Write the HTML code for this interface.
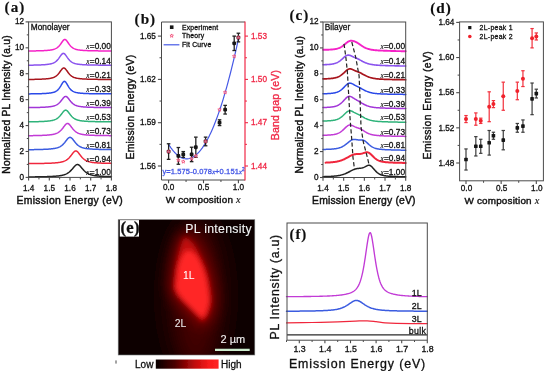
<!DOCTYPE html>
<html><head><meta charset="utf-8"><title>PL figure</title>
<style>
html,body{margin:0;padding:0;background:#fff;}
body{width:544px;height:371px;overflow:hidden;font-family:"Liberation Sans",Arial,sans-serif;}
svg{display:block;}
</style></head><body>
<svg width="544" height="371" viewBox="0 0 544 371">
<rect width="544" height="371" fill="#ffffff"/>
<filter id="soft" x="0" y="0" width="544" height="371" filterUnits="userSpaceOnUse"><feGaussianBlur stdDeviation="0.38"/></filter>
<g filter="url(#soft)">
<rect width="544" height="371" fill="#ffffff"/>
<text x="4.6" y="12.4" font-size="15.2" text-anchor="start" fill="#111" stroke="#111" stroke-width="0.15" font-family='"Liberation Serif", "Times New Roman", serif' font-weight="bold" font-style="normal" letter-spacing="1">(a)</text>
<path d="M28.6 176.94 L29.12 176.94 L29.63 176.93 L30.15 176.93 L30.67 176.92 L31.19 176.92 L31.7 176.91 L32.22 176.91 L32.74 176.9 L33.26 176.89 L33.77 176.89 L34.29 176.88 L34.81 176.88 L35.33 176.87 L35.84 176.86 L36.36 176.85 L36.88 176.85 L37.4 176.84 L37.91 176.83 L38.43 176.82 L38.95 176.81 L39.47 176.8 L39.98 176.79 L40.5 176.79 L41.02 176.78 L41.54 176.76 L42.05 176.75 L42.57 176.74 L43.09 176.73 L43.61 176.72 L44.12 176.71 L44.64 176.69 L45.16 176.68 L45.68 176.66 L46.19 176.65 L46.71 176.63 L47.23 176.62 L47.75 176.6 L48.27 176.58 L48.78 176.56 L49.3 176.54 L49.82 176.52 L50.34 176.5 L50.85 176.48 L51.37 176.45 L51.89 176.42 L52.41 176.4 L52.92 176.37 L53.44 176.34 L53.96 176.31 L54.48 176.27 L54.99 176.23 L55.51 176.19 L56.03 176.15 L56.55 176.11 L57.06 176.06 L57.58 176.01 L58.1 175.95 L58.62 175.89 L59.13 175.83 L59.65 175.76 L60.17 175.68 L60.69 175.6 L61.2 175.51 L61.72 175.41 L62.24 175.3 L62.76 175.18 L63.27 175.04 L63.79 174.89 L64.31 174.73 L64.83 174.55 L65.34 174.35 L65.86 174.13 L66.38 173.89 L66.9 173.62 L67.41 173.32 L67.93 173 L68.45 172.65 L68.97 172.26 L69.48 171.84 L70 171.39 L70.52 170.9 L71.04 170.39 L71.55 169.83 L72.07 169.26 L72.59 168.65 L73.11 168.04 L73.62 167.42 L74.14 166.82 L74.66 166.24 L75.18 165.71 L75.69 165.26 L76.21 164.89 L76.73 164.64 L77.25 164.52 L77.76 164.53 L78.28 164.68 L78.8 164.95 L79.32 165.34 L79.83 165.81 L80.35 166.34 L80.87 166.93 L81.38 167.54 L81.9 168.15 L82.42 168.76 L82.94 169.36 L83.46 169.93 L83.97 170.48 L84.49 170.99 L85.01 171.47 L85.52 171.91 L86.04 172.32 L86.56 172.7 L87.08 173.04 L87.6 173.36 L88.11 173.65 L88.63 173.91 L89.15 174.15 L89.66 174.36 L90.18 174.56 L90.7 174.73 L91.22 174.89 L91.74 175.03 L92.25 175.16 L92.77 175.28 L93.29 175.39 L93.81 175.49 L94.32 175.57 L94.84 175.65 L95.36 175.73 L95.88 175.8 L96.39 175.86 L96.91 175.92 L97.43 175.97 L97.94 176.02 L98.46 176.06 L98.98 176.11 L99.5 176.15 L100.02 176.18 L100.53 176.22 L101.05 176.25 L101.57 176.28 L102.09 176.31 L102.6 176.34 L103.12 176.37 L103.64 176.39 L104.16 176.41 L104.67 176.43 L105.19 176.46 L105.71 176.48 L106.23 176.49 L106.74 176.51 L107.26 176.53 L107.78 176.54 L108.3 176.56 L108.81 176.57 L109.33 176.59 L109.85 176.6 L110.37 176.61 L110.88 176.62 L111.4 176.64" fill="none" stroke="#222222" stroke-width="1.5" stroke-linejoin="round" stroke-linecap="round"/>
<path d="M28.6 163.61 L29.12 163.61 L29.63 163.61 L30.15 163.6 L30.67 163.6 L31.19 163.59 L31.7 163.59 L32.22 163.58 L32.74 163.57 L33.26 163.57 L33.77 163.56 L34.29 163.56 L34.81 163.55 L35.33 163.54 L35.84 163.54 L36.36 163.53 L36.88 163.52 L37.4 163.51 L37.91 163.51 L38.43 163.5 L38.95 163.49 L39.47 163.48 L39.98 163.47 L40.5 163.46 L41.02 163.45 L41.54 163.44 L42.05 163.43 L42.57 163.42 L43.09 163.41 L43.61 163.4 L44.12 163.38 L44.64 163.37 L45.16 163.36 L45.68 163.34 L46.19 163.33 L46.71 163.31 L47.23 163.3 L47.75 163.28 L48.27 163.26 L48.78 163.24 L49.3 163.22 L49.82 163.2 L50.34 163.18 L50.85 163.15 L51.37 163.13 L51.89 163.1 L52.41 163.07 L52.92 163.04 L53.44 163.01 L53.96 162.97 L54.48 162.94 L54.99 162.9 L55.51 162.86 L56.03 162.81 L56.55 162.76 L57.06 162.71 L57.58 162.66 L58.1 162.6 L58.62 162.53 L59.13 162.46 L59.65 162.38 L60.17 162.29 L60.69 162.2 L61.2 162.09 L61.72 161.97 L62.24 161.84 L62.76 161.7 L63.27 161.54 L63.79 161.36 L64.31 161.15 L64.83 160.93 L65.34 160.68 L65.86 160.4 L66.38 160.09 L66.9 159.75 L67.41 159.37 L67.93 158.95 L68.45 158.49 L68.97 157.98 L69.48 157.44 L70 156.86 L70.52 156.23 L71.04 155.58 L71.55 154.9 L72.07 154.21 L72.59 153.52 L73.11 152.85 L73.62 152.24 L74.14 151.72 L74.66 151.3 L75.18 151.03 L75.69 150.91 L76.21 150.96 L76.73 151.17 L77.25 151.53 L77.76 152.02 L78.28 152.6 L78.8 153.24 L79.32 153.92 L79.83 154.61 L80.35 155.3 L80.87 155.96 L81.38 156.6 L81.9 157.2 L82.42 157.76 L82.94 158.27 L83.46 158.75 L83.97 159.18 L84.49 159.58 L85.01 159.93 L85.52 160.26 L86.04 160.55 L86.56 160.81 L87.08 161.04 L87.6 161.25 L88.11 161.44 L88.63 161.6 L89.15 161.75 L89.66 161.89 L90.18 162.01 L90.7 162.12 L91.22 162.22 L91.74 162.3 L92.25 162.39 L92.77 162.46 L93.29 162.53 L93.81 162.59 L94.32 162.64 L94.84 162.7 L95.36 162.74 L95.88 162.79 L96.39 162.83 L96.91 162.87 L97.43 162.91 L97.94 162.94 L98.46 162.97 L98.98 163 L99.5 163.03 L100.02 163.06 L100.53 163.08 L101.05 163.1 L101.57 163.13 L102.09 163.15 L102.6 163.17 L103.12 163.18 L103.64 163.2 L104.16 163.22 L104.67 163.23 L105.19 163.25 L105.71 163.26 L106.23 163.28 L106.74 163.29 L107.26 163.3 L107.78 163.31 L108.3 163.32 L108.81 163.33 L109.33 163.34 L109.85 163.35 L110.37 163.36 L110.88 163.37 L111.4 163.38" fill="none" stroke="#f0283c" stroke-width="1.5" stroke-linejoin="round" stroke-linecap="round"/>
<path d="M28.6 149.7 L29.12 149.7 L29.63 149.69 L30.15 149.68 L30.67 149.68 L31.19 149.67 L31.7 149.66 L32.22 149.65 L32.74 149.64 L33.26 149.64 L33.77 149.63 L34.29 149.62 L34.81 149.61 L35.33 149.6 L35.84 149.59 L36.36 149.58 L36.88 149.57 L37.4 149.56 L37.91 149.54 L38.43 149.53 L38.95 149.52 L39.47 149.51 L39.98 149.49 L40.5 149.48 L41.02 149.46 L41.54 149.44 L42.05 149.43 L42.57 149.41 L43.09 149.39 L43.61 149.37 L44.12 149.35 L44.64 149.33 L45.16 149.3 L45.68 149.28 L46.19 149.25 L46.71 149.22 L47.23 149.19 L47.75 149.16 L48.27 149.13 L48.78 149.09 L49.3 149.05 L49.82 149.01 L50.34 148.96 L50.85 148.92 L51.37 148.86 L51.89 148.81 L52.41 148.75 L52.92 148.68 L53.44 148.61 L53.96 148.53 L54.48 148.44 L54.99 148.35 L55.51 148.24 L56.03 148.13 L56.55 148 L57.06 147.85 L57.58 147.69 L58.1 147.51 L58.62 147.31 L59.13 147.08 L59.65 146.83 L60.17 146.55 L60.69 146.24 L61.2 145.9 L61.72 145.52 L62.24 145.1 L62.76 144.64 L63.27 144.14 L63.79 143.6 L64.31 143.02 L64.83 142.4 L65.34 141.75 L65.86 141.08 L66.38 140.4 L66.9 139.73 L67.41 139.09 L67.93 138.51 L68.45 138.01 L68.97 137.63 L69.48 137.39 L70 137.31 L70.52 137.39 L71.04 137.63 L71.55 138.01 L72.07 138.5 L72.59 139.08 L73.11 139.72 L73.62 140.39 L74.14 141.07 L74.66 141.74 L75.18 142.39 L75.69 143 L76.21 143.58 L76.73 144.12 L77.25 144.62 L77.76 145.08 L78.28 145.5 L78.8 145.87 L79.32 146.22 L79.83 146.53 L80.35 146.81 L80.87 147.05 L81.38 147.28 L81.9 147.48 L82.42 147.66 L82.94 147.82 L83.46 147.96 L83.97 148.09 L84.49 148.21 L85.01 148.31 L85.52 148.41 L86.04 148.49 L86.56 148.57 L87.08 148.64 L87.6 148.7 L88.11 148.76 L88.63 148.82 L89.15 148.87 L89.66 148.92 L90.18 148.96 L90.7 149 L91.22 149.04 L91.74 149.07 L92.25 149.1 L92.77 149.13 L93.29 149.16 L93.81 149.19 L94.32 149.22 L94.84 149.24 L95.36 149.26 L95.88 149.28 L96.39 149.3 L96.91 149.32 L97.43 149.34 L97.94 149.36 L98.46 149.37 L98.98 149.39 L99.5 149.4 L100.02 149.42 L100.53 149.43 L101.05 149.44 L101.57 149.45 L102.09 149.46 L102.6 149.47 L103.12 149.48 L103.64 149.49 L104.16 149.5 L104.67 149.51 L105.19 149.52 L105.71 149.53 L106.23 149.54 L106.74 149.54 L107.26 149.55 L107.78 149.56 L108.3 149.56 L108.81 149.57 L109.33 149.58 L109.85 149.58 L110.37 149.59 L110.88 149.59 L111.4 149.6" fill="none" stroke="#3b5be0" stroke-width="1.5" stroke-linejoin="round" stroke-linecap="round"/>
<path d="M28.6 135.7 L29.12 135.69 L29.63 135.68 L30.15 135.67 L30.67 135.67 L31.19 135.66 L31.7 135.65 L32.22 135.64 L32.74 135.63 L33.26 135.62 L33.77 135.61 L34.29 135.6 L34.81 135.59 L35.33 135.58 L35.84 135.57 L36.36 135.56 L36.88 135.55 L37.4 135.53 L37.91 135.52 L38.43 135.5 L38.95 135.49 L39.47 135.47 L39.98 135.46 L40.5 135.44 L41.02 135.42 L41.54 135.4 L42.05 135.38 L42.57 135.36 L43.09 135.33 L43.61 135.31 L44.12 135.28 L44.64 135.26 L45.16 135.23 L45.68 135.2 L46.19 135.16 L46.71 135.13 L47.23 135.09 L47.75 135.05 L48.27 135 L48.78 134.96 L49.3 134.9 L49.82 134.85 L50.34 134.79 L50.85 134.72 L51.37 134.65 L51.89 134.57 L52.41 134.49 L52.92 134.39 L53.44 134.28 L53.96 134.16 L54.48 134.03 L54.99 133.88 L55.51 133.72 L56.03 133.53 L56.55 133.33 L57.06 133.09 L57.58 132.83 L58.1 132.54 L58.62 132.22 L59.13 131.86 L59.65 131.46 L60.17 131.02 L60.69 130.54 L61.2 130.01 L61.72 129.44 L62.24 128.83 L62.76 128.18 L63.27 127.5 L63.79 126.81 L64.31 126.12 L64.83 125.45 L65.34 124.82 L65.86 124.28 L66.38 123.86 L66.9 123.57 L67.41 123.45 L67.93 123.5 L68.45 123.72 L68.97 124.09 L69.48 124.59 L70 125.18 L70.52 125.84 L71.04 126.52 L71.55 127.22 L72.07 127.9 L72.59 128.56 L73.11 129.19 L73.62 129.77 L74.14 130.31 L74.66 130.81 L75.18 131.27 L75.69 131.68 L76.21 132.06 L76.73 132.39 L77.25 132.7 L77.76 132.97 L78.28 133.21 L78.8 133.43 L79.32 133.62 L79.83 133.79 L80.35 133.94 L80.87 134.08 L81.38 134.2 L81.9 134.31 L82.42 134.41 L82.94 134.5 L83.46 134.58 L83.97 134.65 L84.49 134.72 L85.01 134.78 L85.52 134.84 L86.04 134.89 L86.56 134.94 L87.08 134.98 L87.6 135.02 L88.11 135.06 L88.63 135.09 L89.15 135.13 L89.66 135.16 L90.18 135.19 L90.7 135.21 L91.22 135.24 L91.74 135.26 L92.25 135.29 L92.77 135.31 L93.29 135.33 L93.81 135.35 L94.32 135.36 L94.84 135.38 L95.36 135.4 L95.88 135.41 L96.39 135.43 L96.91 135.44 L97.43 135.45 L97.94 135.46 L98.46 135.48 L98.98 135.49 L99.5 135.5 L100.02 135.51 L100.53 135.52 L101.05 135.53 L101.57 135.53 L102.09 135.54 L102.6 135.55 L103.12 135.56 L103.64 135.57 L104.16 135.57 L104.67 135.58 L105.19 135.58 L105.71 135.59 L106.23 135.6 L106.74 135.6 L107.26 135.61 L107.78 135.61 L108.3 135.62 L108.81 135.62 L109.33 135.63 L109.85 135.63 L110.37 135.63 L110.88 135.64 L111.4 135.64" fill="none" stroke="#c23ad6" stroke-width="1.5" stroke-linejoin="round" stroke-linecap="round"/>
<path d="M28.6 121.83 L29.12 121.83 L29.63 121.82 L30.15 121.81 L30.67 121.8 L31.19 121.8 L31.7 121.79 L32.22 121.78 L32.74 121.77 L33.26 121.76 L33.77 121.75 L34.29 121.74 L34.81 121.73 L35.33 121.71 L35.84 121.7 L36.36 121.69 L36.88 121.68 L37.4 121.66 L37.91 121.65 L38.43 121.63 L38.95 121.62 L39.47 121.6 L39.98 121.58 L40.5 121.56 L41.02 121.54 L41.54 121.52 L42.05 121.49 L42.57 121.47 L43.09 121.44 L43.61 121.42 L44.12 121.39 L44.64 121.36 L45.16 121.32 L45.68 121.29 L46.19 121.25 L46.71 121.21 L47.23 121.16 L47.75 121.11 L48.27 121.06 L48.78 121 L49.3 120.94 L49.82 120.87 L50.34 120.8 L50.85 120.72 L51.37 120.63 L51.89 120.52 L52.41 120.41 L52.92 120.28 L53.44 120.14 L53.96 119.98 L54.48 119.8 L54.99 119.6 L55.51 119.37 L56.03 119.11 L56.55 118.83 L57.06 118.51 L57.58 118.15 L58.1 117.75 L58.62 117.31 L59.13 116.82 L59.65 116.29 L60.17 115.72 L60.69 115.1 L61.2 114.45 L61.72 113.77 L62.24 113.08 L62.76 112.4 L63.27 111.75 L63.79 111.17 L64.31 110.68 L64.83 110.33 L65.34 110.13 L65.86 110.11 L66.38 110.27 L66.9 110.59 L67.41 111.06 L67.93 111.62 L68.45 112.26 L68.97 112.94 L69.48 113.63 L70 114.31 L70.52 114.96 L71.04 115.58 L71.55 116.17 L72.07 116.7 L72.59 117.2 L73.11 117.65 L73.62 118.05 L74.14 118.42 L74.66 118.74 L75.18 119.04 L75.69 119.3 L76.21 119.53 L76.73 119.73 L77.25 119.92 L77.76 120.08 L78.28 120.22 L78.8 120.35 L79.32 120.47 L79.83 120.57 L80.35 120.66 L80.87 120.75 L81.38 120.82 L81.9 120.89 L82.42 120.95 L82.94 121.01 L83.46 121.06 L83.97 121.11 L84.49 121.15 L85.01 121.19 L85.52 121.23 L86.04 121.26 L86.56 121.3 L87.08 121.33 L87.6 121.36 L88.11 121.38 L88.63 121.41 L89.15 121.43 L89.66 121.45 L90.18 121.47 L90.7 121.49 L91.22 121.51 L91.74 121.53 L92.25 121.55 L92.77 121.56 L93.29 121.58 L93.81 121.59 L94.32 121.6 L94.84 121.61 L95.36 121.63 L95.88 121.64 L96.39 121.65 L96.91 121.66 L97.43 121.67 L97.94 121.68 L98.46 121.68 L98.98 121.69 L99.5 121.7 L100.02 121.71 L100.53 121.72 L101.05 121.72 L101.57 121.73 L102.09 121.73 L102.6 121.74 L103.12 121.75 L103.64 121.75 L104.16 121.76 L104.67 121.76 L105.19 121.77 L105.71 121.77 L106.23 121.78 L106.74 121.78 L107.26 121.78 L107.78 121.79 L108.3 121.79 L108.81 121.79 L109.33 121.8 L109.85 121.8 L110.37 121.8 L110.88 121.81 L111.4 121.81" fill="none" stroke="#2fb37a" stroke-width="1.5" stroke-linejoin="round" stroke-linecap="round"/>
<path d="M28.6 107.61 L29.12 107.6 L29.63 107.59 L30.15 107.59 L30.67 107.58 L31.19 107.57 L31.7 107.56 L32.22 107.55 L32.74 107.55 L33.26 107.54 L33.77 107.53 L34.29 107.52 L34.81 107.51 L35.33 107.5 L35.84 107.49 L36.36 107.48 L36.88 107.46 L37.4 107.45 L37.91 107.44 L38.43 107.42 L38.95 107.41 L39.47 107.39 L39.98 107.38 L40.5 107.36 L41.02 107.34 L41.54 107.32 L42.05 107.3 L42.57 107.28 L43.09 107.26 L43.61 107.23 L44.12 107.2 L44.64 107.18 L45.16 107.15 L45.68 107.11 L46.19 107.08 L46.71 107.04 L47.23 107 L47.75 106.96 L48.27 106.91 L48.78 106.86 L49.3 106.8 L49.82 106.74 L50.34 106.68 L50.85 106.6 L51.37 106.52 L51.89 106.43 L52.41 106.33 L52.92 106.22 L53.44 106.09 L53.96 105.94 L54.48 105.78 L54.99 105.6 L55.51 105.39 L56.03 105.16 L56.55 104.9 L57.06 104.6 L57.58 104.26 L58.1 103.89 L58.62 103.48 L59.13 103.02 L59.65 102.51 L60.17 101.96 L60.69 101.36 L61.2 100.73 L61.72 100.06 L62.24 99.38 L62.76 98.7 L63.27 98.05 L63.79 97.45 L64.31 96.96 L64.83 96.6 L65.34 96.4 L65.86 96.38 L66.38 96.54 L66.9 96.87 L67.41 97.34 L67.93 97.92 L68.45 98.56 L68.97 99.23 L69.48 99.92 L70 100.59 L70.52 101.23 L71.04 101.83 L71.55 102.39 L72.07 102.9 L72.59 103.37 L73.11 103.79 L73.62 104.17 L74.14 104.51 L74.66 104.82 L75.18 105.08 L75.69 105.32 L76.21 105.53 L76.73 105.72 L77.25 105.89 L77.76 106.03 L78.28 106.16 L78.8 106.27 L79.32 106.38 L79.83 106.47 L80.35 106.55 L80.87 106.62 L81.38 106.69 L81.9 106.75 L82.42 106.81 L82.94 106.86 L83.46 106.9 L83.97 106.95 L84.49 106.99 L85.01 107.02 L85.52 107.06 L86.04 107.09 L86.56 107.12 L87.08 107.14 L87.6 107.17 L88.11 107.19 L88.63 107.22 L89.15 107.24 L89.66 107.26 L90.18 107.28 L90.7 107.29 L91.22 107.31 L91.74 107.32 L92.25 107.34 L92.77 107.35 L93.29 107.37 L93.81 107.38 L94.32 107.39 L94.84 107.4 L95.36 107.41 L95.88 107.42 L96.39 107.43 L96.91 107.44 L97.43 107.45 L97.94 107.45 L98.46 107.46 L98.98 107.47 L99.5 107.48 L100.02 107.48 L100.53 107.49 L101.05 107.5 L101.57 107.5 L102.09 107.51 L102.6 107.51 L103.12 107.52 L103.64 107.52 L104.16 107.53 L104.67 107.53 L105.19 107.53 L105.71 107.54 L106.23 107.54 L106.74 107.55 L107.26 107.55 L107.78 107.55 L108.3 107.56 L108.81 107.56 L109.33 107.56 L109.85 107.56 L110.37 107.57 L110.88 107.57 L111.4 107.57" fill="none" stroke="#a236d8" stroke-width="1.5" stroke-linejoin="round" stroke-linecap="round"/>
<path d="M28.6 93.9 L29.12 93.89 L29.63 93.89 L30.15 93.88 L30.67 93.87 L31.19 93.87 L31.7 93.86 L32.22 93.85 L32.74 93.84 L33.26 93.83 L33.77 93.83 L34.29 93.82 L34.81 93.81 L35.33 93.8 L35.84 93.79 L36.36 93.78 L36.88 93.77 L37.4 93.75 L37.91 93.74 L38.43 93.73 L38.95 93.71 L39.47 93.7 L39.98 93.68 L40.5 93.67 L41.02 93.65 L41.54 93.63 L42.05 93.61 L42.57 93.59 L43.09 93.57 L43.61 93.54 L44.12 93.51 L44.64 93.49 L45.16 93.46 L45.68 93.42 L46.19 93.39 L46.71 93.35 L47.23 93.31 L47.75 93.27 L48.27 93.22 L48.78 93.17 L49.3 93.11 L49.82 93.05 L50.34 92.98 L50.85 92.9 L51.37 92.81 L51.89 92.71 L52.41 92.61 L52.92 92.48 L53.44 92.34 L53.96 92.18 L54.48 91.99 L54.99 91.77 L55.51 91.52 L56.03 91.24 L56.55 90.91 L57.06 90.53 L57.58 90.09 L58.1 89.59 L58.62 89.03 L59.13 88.39 L59.65 87.69 L60.17 86.92 L60.69 86.08 L61.2 85.21 L61.72 84.31 L62.24 83.44 L62.76 82.64 L63.27 81.99 L63.79 81.54 L64.31 81.34 L64.83 81.42 L65.34 81.78 L65.86 82.36 L66.38 83.1 L66.9 83.95 L67.41 84.84 L67.93 85.73 L68.45 86.58 L68.97 87.38 L69.48 88.11 L70 88.77 L70.52 89.36 L71.04 89.88 L71.55 90.34 L72.07 90.74 L72.59 91.09 L73.11 91.39 L73.62 91.66 L74.14 91.88 L74.66 92.08 L75.18 92.25 L75.69 92.4 L76.21 92.53 L76.73 92.64 L77.25 92.74 L77.76 92.83 L78.28 92.91 L78.8 92.98 L79.32 93.05 L79.83 93.11 L80.35 93.16 L80.87 93.21 L81.38 93.25 L81.9 93.29 L82.42 93.33 L82.94 93.36 L83.46 93.4 L83.97 93.43 L84.49 93.45 L85.01 93.48 L85.52 93.5 L86.04 93.52 L86.56 93.55 L87.08 93.56 L87.6 93.58 L88.11 93.6 L88.63 93.62 L89.15 93.63 L89.66 93.64 L90.18 93.66 L90.7 93.67 L91.22 93.68 L91.74 93.69 L92.25 93.7 L92.77 93.71 L93.29 93.72 L93.81 93.73 L94.32 93.74 L94.84 93.75 L95.36 93.75 L95.88 93.76 L96.39 93.77 L96.91 93.77 L97.43 93.78 L97.94 93.79 L98.46 93.79 L98.98 93.8 L99.5 93.8 L100.02 93.81 L100.53 93.81 L101.05 93.81 L101.57 93.82 L102.09 93.82 L102.6 93.83 L103.12 93.83 L103.64 93.83 L104.16 93.84 L104.67 93.84 L105.19 93.84 L105.71 93.84 L106.23 93.85 L106.74 93.85 L107.26 93.85 L107.78 93.85 L108.3 93.86 L108.81 93.86 L109.33 93.86 L109.85 93.86 L110.37 93.86 L110.88 93.87 L111.4 93.87" fill="none" stroke="#2c4ae8" stroke-width="1.5" stroke-linejoin="round" stroke-linecap="round"/>
<path d="M28.6 79.48 L29.12 79.47 L29.63 79.46 L30.15 79.45 L30.67 79.45 L31.19 79.44 L31.7 79.43 L32.22 79.42 L32.74 79.41 L33.26 79.4 L33.77 79.39 L34.29 79.38 L34.81 79.37 L35.33 79.36 L35.84 79.34 L36.36 79.33 L36.88 79.32 L37.4 79.3 L37.91 79.29 L38.43 79.27 L38.95 79.25 L39.47 79.23 L39.98 79.21 L40.5 79.19 L41.02 79.17 L41.54 79.15 L42.05 79.12 L42.57 79.1 L43.09 79.07 L43.61 79.04 L44.12 79.01 L44.64 78.97 L45.16 78.94 L45.68 78.9 L46.19 78.85 L46.71 78.81 L47.23 78.75 L47.75 78.7 L48.27 78.64 L48.78 78.57 L49.3 78.5 L49.82 78.41 L50.34 78.32 L50.85 78.22 L51.37 78.1 L51.89 77.97 L52.41 77.82 L52.92 77.66 L53.44 77.47 L53.96 77.25 L54.48 77.01 L54.99 76.73 L55.51 76.41 L56.03 76.06 L56.55 75.66 L57.06 75.22 L57.58 74.72 L58.1 74.18 L58.62 73.58 L59.13 72.94 L59.65 72.25 L60.17 71.54 L60.69 70.81 L61.2 70.1 L61.72 69.43 L62.24 68.84 L62.76 68.38 L63.27 68.09 L63.79 67.99 L64.31 68.09 L64.83 68.38 L65.34 68.84 L65.86 69.42 L66.38 70.09 L66.9 70.8 L67.41 71.53 L67.93 72.24 L68.45 72.93 L68.97 73.57 L69.48 74.16 L70 74.71 L70.52 75.2 L71.04 75.64 L71.55 76.04 L72.07 76.39 L72.59 76.71 L73.11 76.98 L73.62 77.23 L74.14 77.44 L74.66 77.63 L75.18 77.79 L75.69 77.94 L76.21 78.07 L76.73 78.18 L77.25 78.29 L77.76 78.38 L78.28 78.46 L78.8 78.53 L79.32 78.6 L79.83 78.66 L80.35 78.71 L80.87 78.76 L81.38 78.81 L81.9 78.85 L82.42 78.89 L82.94 78.93 L83.46 78.96 L83.97 78.99 L84.49 79.02 L85.01 79.05 L85.52 79.07 L86.04 79.09 L86.56 79.12 L87.08 79.14 L87.6 79.16 L88.11 79.17 L88.63 79.19 L89.15 79.21 L89.66 79.22 L90.18 79.24 L90.7 79.25 L91.22 79.26 L91.74 79.27 L92.25 79.28 L92.77 79.29 L93.29 79.31 L93.81 79.31 L94.32 79.32 L94.84 79.33 L95.36 79.34 L95.88 79.35 L96.39 79.36 L96.91 79.36 L97.43 79.37 L97.94 79.38 L98.46 79.38 L98.98 79.39 L99.5 79.39 L100.02 79.4 L100.53 79.4 L101.05 79.41 L101.57 79.41 L102.09 79.42 L102.6 79.42 L103.12 79.43 L103.64 79.43 L104.16 79.43 L104.67 79.44 L105.19 79.44 L105.71 79.44 L106.23 79.45 L106.74 79.45 L107.26 79.45 L107.78 79.45 L108.3 79.46 L108.81 79.46 L109.33 79.46 L109.85 79.46 L110.37 79.47 L110.88 79.47 L111.4 79.47" fill="none" stroke="#a8141e" stroke-width="1.5" stroke-linejoin="round" stroke-linecap="round"/>
<path d="M28.6 65.21 L29.12 65.2 L29.63 65.19 L30.15 65.19 L30.67 65.18 L31.19 65.17 L31.7 65.16 L32.22 65.15 L32.74 65.14 L33.26 65.13 L33.77 65.12 L34.29 65.11 L34.81 65.09 L35.33 65.08 L35.84 65.07 L36.36 65.05 L36.88 65.04 L37.4 65.02 L37.91 65.01 L38.43 64.99 L38.95 64.97 L39.47 64.95 L39.98 64.93 L40.5 64.91 L41.02 64.88 L41.54 64.86 L42.05 64.83 L42.57 64.8 L43.09 64.77 L43.61 64.74 L44.12 64.7 L44.64 64.67 L45.16 64.63 L45.68 64.58 L46.19 64.53 L46.71 64.48 L47.23 64.42 L47.75 64.36 L48.27 64.29 L48.78 64.22 L49.3 64.13 L49.82 64.04 L50.34 63.94 L50.85 63.82 L51.37 63.69 L51.89 63.54 L52.41 63.37 L52.92 63.18 L53.44 62.96 L53.96 62.72 L54.48 62.44 L54.99 62.12 L55.51 61.76 L56.03 61.36 L56.55 60.91 L57.06 60.41 L57.58 59.86 L58.1 59.25 L58.62 58.6 L59.13 57.9 L59.65 57.16 L60.17 56.41 L60.69 55.67 L61.2 54.97 L61.72 54.34 L62.24 53.84 L62.76 53.5 L63.27 53.35 L63.79 53.41 L64.31 53.68 L64.83 54.12 L65.34 54.7 L65.86 55.38 L66.38 56.11 L66.9 56.86 L67.41 57.6 L67.93 58.31 L68.45 58.98 L68.97 59.61 L69.48 60.18 L70 60.7 L70.52 61.17 L71.04 61.59 L71.55 61.96 L72.07 62.29 L72.59 62.59 L73.11 62.84 L73.62 63.07 L74.14 63.27 L74.66 63.45 L75.18 63.6 L75.69 63.74 L76.21 63.86 L76.73 63.97 L77.25 64.06 L77.76 64.15 L78.28 64.23 L78.8 64.3 L79.32 64.36 L79.83 64.42 L80.35 64.47 L80.87 64.52 L81.38 64.56 L81.9 64.6 L82.42 64.64 L82.94 64.68 L83.46 64.71 L83.97 64.74 L84.49 64.77 L85.01 64.79 L85.52 64.82 L86.04 64.84 L86.56 64.86 L87.08 64.88 L87.6 64.9 L88.11 64.92 L88.63 64.94 L89.15 64.95 L89.66 64.97 L90.18 64.98 L90.7 64.99 L91.22 65.01 L91.74 65.02 L92.25 65.03 L92.77 65.04 L93.29 65.05 L93.81 65.06 L94.32 65.07 L94.84 65.08 L95.36 65.08 L95.88 65.09 L96.39 65.1 L96.91 65.11 L97.43 65.11 L97.94 65.12 L98.46 65.13 L98.98 65.13 L99.5 65.14 L100.02 65.14 L100.53 65.15 L101.05 65.15 L101.57 65.16 L102.09 65.16 L102.6 65.16 L103.12 65.17 L103.64 65.17 L104.16 65.18 L104.67 65.18 L105.19 65.18 L105.71 65.19 L106.23 65.19 L106.74 65.19 L107.26 65.2 L107.78 65.2 L108.3 65.2 L108.81 65.2 L109.33 65.21 L109.85 65.21 L110.37 65.21 L110.88 65.21 L111.4 65.21" fill="none" stroke="#8a52ee" stroke-width="1.5" stroke-linejoin="round" stroke-linecap="round"/>
<path d="M28.6 50.99 L29.12 50.99 L29.63 50.98 L30.15 50.98 L30.67 50.97 L31.19 50.96 L31.7 50.95 L32.22 50.95 L32.74 50.94 L33.26 50.93 L33.77 50.92 L34.29 50.91 L34.81 50.9 L35.33 50.89 L35.84 50.88 L36.36 50.87 L36.88 50.86 L37.4 50.85 L37.91 50.83 L38.43 50.82 L38.95 50.81 L39.47 50.79 L39.98 50.77 L40.5 50.76 L41.02 50.74 L41.54 50.72 L42.05 50.7 L42.57 50.68 L43.09 50.65 L43.61 50.63 L44.12 50.6 L44.64 50.58 L45.16 50.55 L45.68 50.51 L46.19 50.48 L46.71 50.44 L47.23 50.4 L47.75 50.36 L48.27 50.31 L48.78 50.26 L49.3 50.2 L49.82 50.14 L50.34 50.07 L50.85 49.99 L51.37 49.91 L51.89 49.81 L52.41 49.7 L52.92 49.58 L53.44 49.44 L53.96 49.29 L54.48 49.11 L54.99 48.91 L55.51 48.67 L56.03 48.41 L56.55 48.11 L57.06 47.77 L57.58 47.38 L58.1 46.94 L58.62 46.46 L59.13 45.91 L59.65 45.32 L60.17 44.67 L60.69 43.97 L61.2 43.23 L61.72 42.48 L62.24 41.73 L62.76 41.02 L63.27 40.4 L63.79 39.9 L64.31 39.59 L64.83 39.48 L65.34 39.59 L65.86 39.9 L66.38 40.39 L66.9 41.01 L67.41 41.72 L67.93 42.47 L68.45 43.22 L68.97 43.96 L69.48 44.65 L70 45.3 L70.52 45.9 L71.04 46.44 L71.55 46.93 L72.07 47.36 L72.59 47.75 L73.11 48.09 L73.62 48.39 L74.14 48.65 L74.66 48.88 L75.18 49.08 L75.69 49.26 L76.21 49.42 L76.73 49.55 L77.25 49.67 L77.76 49.78 L78.28 49.87 L78.8 49.96 L79.32 50.03 L79.83 50.1 L80.35 50.16 L80.87 50.22 L81.38 50.27 L81.9 50.31 L82.42 50.36 L82.94 50.4 L83.46 50.43 L83.97 50.47 L84.49 50.5 L85.01 50.53 L85.52 50.55 L86.04 50.58 L86.56 50.6 L87.08 50.62 L87.6 50.64 L88.11 50.66 L88.63 50.68 L89.15 50.7 L89.66 50.71 L90.18 50.73 L90.7 50.74 L91.22 50.75 L91.74 50.77 L92.25 50.78 L92.77 50.79 L93.29 50.8 L93.81 50.81 L94.32 50.82 L94.84 50.83 L95.36 50.84 L95.88 50.84 L96.39 50.85 L96.91 50.86 L97.43 50.86 L97.94 50.87 L98.46 50.88 L98.98 50.88 L99.5 50.89 L100.02 50.89 L100.53 50.9 L101.05 50.9 L101.57 50.91 L102.09 50.91 L102.6 50.92 L103.12 50.92 L103.64 50.92 L104.16 50.93 L104.67 50.93 L105.19 50.94 L105.71 50.94 L106.23 50.94 L106.74 50.94 L107.26 50.95 L107.78 50.95 L108.3 50.95 L108.81 50.95 L109.33 50.96 L109.85 50.96 L110.37 50.96 L110.88 50.96 L111.4 50.97" fill="none" stroke="#f524c8" stroke-width="1.5" stroke-linejoin="round" stroke-linecap="round"/>
<text x="110.8" y="175.44" font-size="8.3" text-anchor="end" fill="#111" stroke="#111" stroke-width="0.3" font-family='"Liberation Sans", Arial, sans-serif' font-weight="normal" font-style="normal">=1.00</text>
<text x="89.5" y="175.44" font-size="7.2" text-anchor="end" fill="#111" stroke="#111" stroke-width="0.15" font-family='"Liberation Serif", "Times New Roman", serif' font-weight="normal" font-style="italic">x</text>
<text x="110.8" y="162.09" font-size="8.3" text-anchor="end" fill="#111" stroke="#111" stroke-width="0.3" font-family='"Liberation Sans", Arial, sans-serif' font-weight="normal" font-style="normal">=0.94</text>
<text x="89.5" y="162.09" font-size="7.2" text-anchor="end" fill="#111" stroke="#111" stroke-width="0.15" font-family='"Liberation Serif", "Times New Roman", serif' font-weight="normal" font-style="italic">x</text>
<text x="110.8" y="148.23" font-size="8.3" text-anchor="end" fill="#111" stroke="#111" stroke-width="0.3" font-family='"Liberation Sans", Arial, sans-serif' font-weight="normal" font-style="normal">=0.81</text>
<text x="89.5" y="148.23" font-size="7.2" text-anchor="end" fill="#111" stroke="#111" stroke-width="0.15" font-family='"Liberation Serif", "Times New Roman", serif' font-weight="normal" font-style="italic">x</text>
<text x="110.8" y="134.23" font-size="8.3" text-anchor="end" fill="#111" stroke="#111" stroke-width="0.3" font-family='"Liberation Sans", Arial, sans-serif' font-weight="normal" font-style="normal">=0.73</text>
<text x="89.5" y="134.23" font-size="7.2" text-anchor="end" fill="#111" stroke="#111" stroke-width="0.15" font-family='"Liberation Serif", "Times New Roman", serif' font-weight="normal" font-style="italic">x</text>
<text x="110.8" y="120.37" font-size="8.3" text-anchor="end" fill="#111" stroke="#111" stroke-width="0.3" font-family='"Liberation Sans", Arial, sans-serif' font-weight="normal" font-style="normal">=0.53</text>
<text x="89.5" y="120.37" font-size="7.2" text-anchor="end" fill="#111" stroke="#111" stroke-width="0.15" font-family='"Liberation Serif", "Times New Roman", serif' font-weight="normal" font-style="italic">x</text>
<text x="110.8" y="106.11" font-size="8.3" text-anchor="end" fill="#111" stroke="#111" stroke-width="0.3" font-family='"Liberation Sans", Arial, sans-serif' font-weight="normal" font-style="normal">=0.39</text>
<text x="89.5" y="106.11" font-size="7.2" text-anchor="end" fill="#111" stroke="#111" stroke-width="0.15" font-family='"Liberation Serif", "Times New Roman", serif' font-weight="normal" font-style="italic">x</text>
<text x="110.8" y="92.38" font-size="8.3" text-anchor="end" fill="#111" stroke="#111" stroke-width="0.3" font-family='"Liberation Sans", Arial, sans-serif' font-weight="normal" font-style="normal">=0.33</text>
<text x="89.5" y="92.38" font-size="7.2" text-anchor="end" fill="#111" stroke="#111" stroke-width="0.15" font-family='"Liberation Serif", "Times New Roman", serif' font-weight="normal" font-style="italic">x</text>
<text x="110.8" y="77.99" font-size="8.3" text-anchor="end" fill="#111" stroke="#111" stroke-width="0.3" font-family='"Liberation Sans", Arial, sans-serif' font-weight="normal" font-style="normal">=0.21</text>
<text x="89.5" y="77.99" font-size="7.2" text-anchor="end" fill="#111" stroke="#111" stroke-width="0.15" font-family='"Liberation Serif", "Times New Roman", serif' font-weight="normal" font-style="italic">x</text>
<text x="110.8" y="63.74" font-size="8.3" text-anchor="end" fill="#111" stroke="#111" stroke-width="0.3" font-family='"Liberation Sans", Arial, sans-serif' font-weight="normal" font-style="normal">=0.14</text>
<text x="89.5" y="63.74" font-size="7.2" text-anchor="end" fill="#111" stroke="#111" stroke-width="0.15" font-family='"Liberation Serif", "Times New Roman", serif' font-weight="normal" font-style="italic">x</text>
<text x="110.8" y="49.49" font-size="8.3" text-anchor="end" fill="#111" stroke="#111" stroke-width="0.3" font-family='"Liberation Sans", Arial, sans-serif' font-weight="normal" font-style="normal">=0.00</text>
<text x="89.5" y="49.49" font-size="7.2" text-anchor="end" fill="#111" stroke="#111" stroke-width="0.15" font-family='"Liberation Serif", "Times New Roman", serif' font-weight="normal" font-style="italic">x</text>
<rect x="28.6" y="21.9" width="82.8" height="155.5" fill="none" stroke="#4a4a4a" stroke-width="1"/>
<line x1="25.6" y1="177.4" x2="28.6" y2="177.4" stroke="#4a4a4a" stroke-width="1.1"/>
<text x="24" y="179.6" font-size="8.2" text-anchor="end" fill="#111" stroke="#111" stroke-width="0.3" font-family='"Liberation Sans", Arial, sans-serif' font-weight="normal" font-style="normal">0</text>
<line x1="25.6" y1="151.48" x2="28.6" y2="151.48" stroke="#4a4a4a" stroke-width="1.1"/>
<text x="24" y="153.68" font-size="8.2" text-anchor="end" fill="#111" stroke="#111" stroke-width="0.3" font-family='"Liberation Sans", Arial, sans-serif' font-weight="normal" font-style="normal">2</text>
<line x1="25.6" y1="125.57" x2="28.6" y2="125.57" stroke="#4a4a4a" stroke-width="1.1"/>
<text x="24" y="127.77" font-size="8.2" text-anchor="end" fill="#111" stroke="#111" stroke-width="0.3" font-family='"Liberation Sans", Arial, sans-serif' font-weight="normal" font-style="normal">4</text>
<line x1="25.6" y1="99.65" x2="28.6" y2="99.65" stroke="#4a4a4a" stroke-width="1.1"/>
<text x="24" y="101.85" font-size="8.2" text-anchor="end" fill="#111" stroke="#111" stroke-width="0.3" font-family='"Liberation Sans", Arial, sans-serif' font-weight="normal" font-style="normal">6</text>
<line x1="25.6" y1="73.73" x2="28.6" y2="73.73" stroke="#4a4a4a" stroke-width="1.1"/>
<text x="24" y="75.93" font-size="8.2" text-anchor="end" fill="#111" stroke="#111" stroke-width="0.3" font-family='"Liberation Sans", Arial, sans-serif' font-weight="normal" font-style="normal">8</text>
<line x1="25.6" y1="47.82" x2="28.6" y2="47.82" stroke="#4a4a4a" stroke-width="1.1"/>
<text x="24" y="50.02" font-size="8.2" text-anchor="end" fill="#111" stroke="#111" stroke-width="0.3" font-family='"Liberation Sans", Arial, sans-serif' font-weight="normal" font-style="normal">10</text>
<line x1="25.6" y1="21.9" x2="28.6" y2="21.9" stroke="#4a4a4a" stroke-width="1.1"/>
<text x="24" y="24.1" font-size="8.2" text-anchor="end" fill="#111" stroke="#111" stroke-width="0.3" font-family='"Liberation Sans", Arial, sans-serif' font-weight="normal" font-style="normal">12</text>
<line x1="26.8" y1="164.44" x2="28.6" y2="164.44" stroke="#4a4a4a" stroke-width="1"/>
<line x1="26.8" y1="138.53" x2="28.6" y2="138.53" stroke="#4a4a4a" stroke-width="1"/>
<line x1="26.8" y1="112.61" x2="28.6" y2="112.61" stroke="#4a4a4a" stroke-width="1"/>
<line x1="26.8" y1="86.69" x2="28.6" y2="86.69" stroke="#4a4a4a" stroke-width="1"/>
<line x1="26.8" y1="60.78" x2="28.6" y2="60.78" stroke="#4a4a4a" stroke-width="1"/>
<line x1="26.8" y1="34.86" x2="28.6" y2="34.86" stroke="#4a4a4a" stroke-width="1"/>
<line x1="28.6" y1="177.4" x2="28.6" y2="180.6" stroke="#4a4a4a" stroke-width="1.1"/>
<text x="28.6" y="191.4" font-size="8.2" text-anchor="middle" fill="#111" stroke="#111" stroke-width="0.3" font-family='"Liberation Sans", Arial, sans-serif' font-weight="normal" font-style="normal">1.4</text>
<line x1="49.3" y1="177.4" x2="49.3" y2="180.6" stroke="#4a4a4a" stroke-width="1.1"/>
<text x="49.3" y="191.4" font-size="8.2" text-anchor="middle" fill="#111" stroke="#111" stroke-width="0.3" font-family='"Liberation Sans", Arial, sans-serif' font-weight="normal" font-style="normal">1.5</text>
<line x1="70" y1="177.4" x2="70" y2="180.6" stroke="#4a4a4a" stroke-width="1.1"/>
<text x="70" y="191.4" font-size="8.2" text-anchor="middle" fill="#111" stroke="#111" stroke-width="0.3" font-family='"Liberation Sans", Arial, sans-serif' font-weight="normal" font-style="normal">1.6</text>
<line x1="90.7" y1="177.4" x2="90.7" y2="180.6" stroke="#4a4a4a" stroke-width="1.1"/>
<text x="90.7" y="191.4" font-size="8.2" text-anchor="middle" fill="#111" stroke="#111" stroke-width="0.3" font-family='"Liberation Sans", Arial, sans-serif' font-weight="normal" font-style="normal">1.7</text>
<line x1="111.4" y1="177.4" x2="111.4" y2="180.6" stroke="#4a4a4a" stroke-width="1.1"/>
<text x="111.4" y="191.4" font-size="8.2" text-anchor="middle" fill="#111" stroke="#111" stroke-width="0.3" font-family='"Liberation Sans", Arial, sans-serif' font-weight="normal" font-style="normal">1.8</text>
<line x1="38.95" y1="177.4" x2="38.95" y2="179.4" stroke="#4a4a4a" stroke-width="1"/>
<line x1="59.65" y1="177.4" x2="59.65" y2="179.4" stroke="#4a4a4a" stroke-width="1"/>
<line x1="80.35" y1="177.4" x2="80.35" y2="179.4" stroke="#4a4a4a" stroke-width="1"/>
<line x1="101.05" y1="177.4" x2="101.05" y2="179.4" stroke="#4a4a4a" stroke-width="1"/>
<text x="30.8" y="30.2" font-size="8.3" text-anchor="start" fill="#111" stroke="#111" stroke-width="0.3" font-family='"Liberation Sans", Arial, sans-serif' font-weight="normal" font-style="normal">Monolayer</text>
<text x="69.8" y="204" font-size="10.4" text-anchor="middle" fill="#111" stroke="#111" stroke-width="0.42" font-family='"Liberation Sans", Arial, sans-serif' font-weight="normal" font-style="normal" letter-spacing="0.3">Emission Energy (eV)</text>
<text x="10.5" y="104.4" font-size="10.2" text-anchor="middle" fill="#111" stroke="#111" stroke-width="0.42" font-family='"Liberation Sans", Arial, sans-serif' font-weight="normal" font-style="normal" transform="rotate(-90 10.5 104.4)" letter-spacing="0.26">Normalized PL Intensity (a.u)</text>
<text x="134.6" y="24.3" font-size="15.2" text-anchor="start" fill="#111" stroke="#111" stroke-width="0.15" font-family='"Liberation Serif", "Times New Roman", serif' font-weight="bold" font-style="normal" letter-spacing="1">(b)</text>
<line x1="161.5" y1="22" x2="245" y2="22" stroke="#4a4a4a" stroke-width="1"/>
<line x1="161.5" y1="22" x2="161.5" y2="180" stroke="#4a4a4a" stroke-width="1"/>
<line x1="161.5" y1="180" x2="245" y2="180" stroke="#4a4a4a" stroke-width="1"/>
<line x1="245" y1="21.5" x2="245" y2="180.5" stroke="#f02846" stroke-width="1.2"/>
<line x1="157.9" y1="166" x2="161.5" y2="166" stroke="#4a4a4a" stroke-width="1.1"/>
<text x="155.9" y="168.6" font-size="8.2" text-anchor="end" fill="#111" stroke="#111" stroke-width="0.3" font-family='"Liberation Sans", Arial, sans-serif' font-weight="normal" font-style="normal">1.56</text>
<line x1="157.9" y1="122.7" x2="161.5" y2="122.7" stroke="#4a4a4a" stroke-width="1.1"/>
<text x="155.9" y="125.3" font-size="8.2" text-anchor="end" fill="#111" stroke="#111" stroke-width="0.3" font-family='"Liberation Sans", Arial, sans-serif' font-weight="normal" font-style="normal">1.59</text>
<line x1="157.9" y1="79.4" x2="161.5" y2="79.4" stroke="#4a4a4a" stroke-width="1.1"/>
<text x="155.9" y="82" font-size="8.2" text-anchor="end" fill="#111" stroke="#111" stroke-width="0.3" font-family='"Liberation Sans", Arial, sans-serif' font-weight="normal" font-style="normal">1.62</text>
<line x1="157.9" y1="36.1" x2="161.5" y2="36.1" stroke="#4a4a4a" stroke-width="1.1"/>
<text x="155.9" y="38.7" font-size="8.2" text-anchor="end" fill="#111" stroke="#111" stroke-width="0.3" font-family='"Liberation Sans", Arial, sans-serif' font-weight="normal" font-style="normal">1.65</text>
<line x1="159.5" y1="144.35" x2="161.5" y2="144.35" stroke="#4a4a4a" stroke-width="1"/>
<line x1="159.5" y1="101.05" x2="161.5" y2="101.05" stroke="#4a4a4a" stroke-width="1"/>
<line x1="159.5" y1="57.75" x2="161.5" y2="57.75" stroke="#4a4a4a" stroke-width="1"/>
<line x1="245" y1="166" x2="248" y2="166" stroke="#f02846" stroke-width="1.1"/>
<text x="251" y="168.7" font-size="8.2" text-anchor="start" fill="#f02846" stroke="#f02846" stroke-width="0.3" font-family='"Liberation Sans", Arial, sans-serif' font-weight="normal" font-style="normal">1.44</text>
<line x1="245" y1="122.7" x2="248" y2="122.7" stroke="#f02846" stroke-width="1.1"/>
<text x="251" y="125.4" font-size="8.2" text-anchor="start" fill="#f02846" stroke="#f02846" stroke-width="0.3" font-family='"Liberation Sans", Arial, sans-serif' font-weight="normal" font-style="normal">1.47</text>
<line x1="245" y1="79.4" x2="248" y2="79.4" stroke="#f02846" stroke-width="1.1"/>
<text x="251" y="82.1" font-size="8.2" text-anchor="start" fill="#f02846" stroke="#f02846" stroke-width="0.3" font-family='"Liberation Sans", Arial, sans-serif' font-weight="normal" font-style="normal">1.50</text>
<line x1="245" y1="36.1" x2="248" y2="36.1" stroke="#f02846" stroke-width="1.1"/>
<text x="251" y="38.8" font-size="8.2" text-anchor="start" fill="#f02846" stroke="#f02846" stroke-width="0.3" font-family='"Liberation Sans", Arial, sans-serif' font-weight="normal" font-style="normal">1.53</text>
<line x1="245" y1="144.35" x2="247" y2="144.35" stroke="#f02846" stroke-width="1"/>
<line x1="245" y1="101.05" x2="247" y2="101.05" stroke="#f02846" stroke-width="1"/>
<line x1="245" y1="57.75" x2="247" y2="57.75" stroke="#f02846" stroke-width="1"/>
<line x1="168.6" y1="180" x2="168.6" y2="183.2" stroke="#4a4a4a" stroke-width="1.1"/>
<text x="168.6" y="190" font-size="8.2" text-anchor="middle" fill="#111" stroke="#111" stroke-width="0.3" font-family='"Liberation Sans", Arial, sans-serif' font-weight="normal" font-style="normal">0.0</text>
<line x1="203.5" y1="180" x2="203.5" y2="183.2" stroke="#4a4a4a" stroke-width="1.1"/>
<text x="203.5" y="190" font-size="8.2" text-anchor="middle" fill="#111" stroke="#111" stroke-width="0.3" font-family='"Liberation Sans", Arial, sans-serif' font-weight="normal" font-style="normal">0.5</text>
<line x1="238.4" y1="180" x2="238.4" y2="183.2" stroke="#4a4a4a" stroke-width="1.1"/>
<text x="238.4" y="190" font-size="8.2" text-anchor="middle" fill="#111" stroke="#111" stroke-width="0.3" font-family='"Liberation Sans", Arial, sans-serif' font-weight="normal" font-style="normal">1.0</text>
<line x1="186.05" y1="180" x2="186.05" y2="182" stroke="#4a4a4a" stroke-width="1"/>
<line x1="220.95" y1="180" x2="220.95" y2="182" stroke="#4a4a4a" stroke-width="1"/>
<path d="M168.6 144.35 L169.76 146.17 L170.93 147.86 L172.09 149.43 L173.25 150.89 L174.42 152.22 L175.58 153.43 L176.74 154.52 L177.91 155.49 L179.07 156.33 L180.23 157.06 L181.4 157.66 L182.56 158.15 L183.72 158.51 L184.89 158.75 L186.05 158.87 L187.21 158.87 L188.38 158.75 L189.54 158.51 L190.7 158.15 L191.87 157.66 L193.03 157.05 L194.19 156.33 L195.36 155.48 L196.52 154.51 L197.68 153.42 L198.85 152.21 L200.01 150.88 L201.17 149.42 L202.34 147.85 L203.5 146.15 L204.66 144.34 L205.83 142.4 L206.99 140.34 L208.15 138.16 L209.32 135.86 L210.48 133.44 L211.64 130.9 L212.81 128.23 L213.97 125.45 L215.13 122.54 L216.3 119.51 L217.46 116.36 L218.62 113.09 L219.79 109.7 L220.95 106.19 L222.11 102.56 L223.28 98.81 L224.44 94.93 L225.6 90.93 L226.77 86.82 L227.93 82.58 L229.09 78.22 L230.26 73.74 L231.42 69.14 L232.58 64.42 L233.75 59.57 L234.91 54.61 L236.07 49.52 L237.24 44.31 L238.4 38.99" fill="none" stroke="#4558e6" stroke-width="1.2" stroke-linejoin="round" stroke-linecap="round"/>
<line x1="168.6" y1="159.36" x2="168.6" y2="143.77" stroke="#222" stroke-width="1.3"/>
<line x1="166.8" y1="159.36" x2="170.4" y2="159.36" stroke="#222" stroke-width="1.3"/>
<line x1="166.8" y1="143.77" x2="170.4" y2="143.77" stroke="#222" stroke-width="1.3"/>
<rect x="166.7" y="149.67" width="3.8" height="3.8" rx="1.1" fill="#151515"/>
<line x1="178.37" y1="164.27" x2="178.37" y2="147.53" stroke="#222" stroke-width="1.3"/>
<line x1="176.57" y1="164.27" x2="180.17" y2="164.27" stroke="#222" stroke-width="1.3"/>
<line x1="176.57" y1="147.53" x2="180.17" y2="147.53" stroke="#222" stroke-width="1.3"/>
<rect x="176.47" y="154" width="3.8" height="3.8" rx="1.1" fill="#151515"/>
<line x1="183.26" y1="157.34" x2="183.26" y2="151.57" stroke="#222" stroke-width="1.3"/>
<line x1="181.46" y1="157.34" x2="185.06" y2="157.34" stroke="#222" stroke-width="1.3"/>
<line x1="181.46" y1="151.57" x2="185.06" y2="151.57" stroke="#222" stroke-width="1.3"/>
<rect x="181.36" y="152.55" width="3.8" height="3.8" rx="1.1" fill="#151515"/>
<line x1="191.63" y1="161.67" x2="191.63" y2="147.24" stroke="#222" stroke-width="1.3"/>
<line x1="189.83" y1="161.67" x2="193.43" y2="161.67" stroke="#222" stroke-width="1.3"/>
<line x1="189.83" y1="147.24" x2="193.43" y2="147.24" stroke="#222" stroke-width="1.3"/>
<rect x="189.73" y="152.55" width="3.8" height="3.8" rx="1.1" fill="#151515"/>
<line x1="195.82" y1="157.34" x2="195.82" y2="137.13" stroke="#222" stroke-width="1.3"/>
<line x1="194.02" y1="157.34" x2="197.62" y2="157.34" stroke="#222" stroke-width="1.3"/>
<line x1="194.02" y1="137.13" x2="197.62" y2="137.13" stroke="#222" stroke-width="1.3"/>
<rect x="193.92" y="145.34" width="3.8" height="3.8" rx="1.1" fill="#151515"/>
<line x1="205.59" y1="145.79" x2="205.59" y2="137.13" stroke="#222" stroke-width="1.3"/>
<line x1="203.79" y1="145.79" x2="207.39" y2="145.79" stroke="#222" stroke-width="1.3"/>
<line x1="203.79" y1="137.13" x2="207.39" y2="137.13" stroke="#222" stroke-width="1.3"/>
<rect x="203.69" y="139.56" width="3.8" height="3.8" rx="1.1" fill="#151515"/>
<line x1="219.55" y1="125.59" x2="219.55" y2="119.81" stroke="#222" stroke-width="1.3"/>
<line x1="217.75" y1="125.59" x2="221.35" y2="125.59" stroke="#222" stroke-width="1.3"/>
<line x1="217.75" y1="119.81" x2="221.35" y2="119.81" stroke="#222" stroke-width="1.3"/>
<rect x="217.65" y="120.8" width="3.8" height="3.8" rx="1.1" fill="#151515"/>
<line x1="225.14" y1="114.04" x2="225.14" y2="105.38" stroke="#222" stroke-width="1.3"/>
<line x1="223.34" y1="114.04" x2="226.94" y2="114.04" stroke="#222" stroke-width="1.3"/>
<line x1="223.34" y1="105.38" x2="226.94" y2="105.38" stroke="#222" stroke-width="1.3"/>
<rect x="223.24" y="107.81" width="3.8" height="3.8" rx="1.1" fill="#151515"/>
<line x1="234.21" y1="50.53" x2="234.21" y2="36.1" stroke="#222" stroke-width="1.3"/>
<line x1="232.41" y1="50.53" x2="236.01" y2="50.53" stroke="#222" stroke-width="1.3"/>
<line x1="232.41" y1="36.1" x2="236.01" y2="36.1" stroke="#222" stroke-width="1.3"/>
<rect x="232.31" y="41.42" width="3.8" height="3.8" rx="1.1" fill="#151515"/>
<line x1="238.4" y1="41.87" x2="238.4" y2="33.21" stroke="#222" stroke-width="1.3"/>
<line x1="236.6" y1="41.87" x2="240.2" y2="41.87" stroke="#222" stroke-width="1.3"/>
<line x1="236.6" y1="33.21" x2="240.2" y2="33.21" stroke="#222" stroke-width="1.3"/>
<rect x="236.5" y="35.64" width="3.8" height="3.8" rx="1.1" fill="#151515"/>
<polygon points="168.6,149.72 169.06,150.94 170.36,150.99 169.34,151.81 169.69,153.06 168.6,152.34 167.51,153.06 167.86,151.81 166.84,150.99 168.14,150.94" fill="#fff" fill-opacity="0.6" stroke="#f0406e" stroke-width="0.75"/>
<polygon points="178.37,158.38 178.83,159.6 180.13,159.65 179.11,160.47 179.46,161.72 178.37,161 177.28,161.72 177.63,160.47 176.61,159.65 177.92,159.6" fill="#fff" fill-opacity="0.6" stroke="#f0406e" stroke-width="0.75"/>
<polygon points="183.26,159.82 183.71,161.04 185.02,161.1 184,161.91 184.35,163.17 183.26,162.45 182.17,163.17 182.52,161.91 181.5,161.1 182.8,161.04" fill="#fff" fill-opacity="0.6" stroke="#f0406e" stroke-width="0.75"/>
<polygon points="191.63,156.93 192.09,158.15 193.39,158.21 192.37,159.02 192.72,160.28 191.63,159.56 190.55,160.28 190.9,159.02 189.87,158.21 191.18,158.15" fill="#fff" fill-opacity="0.6" stroke="#f0406e" stroke-width="0.75"/>
<polygon points="195.82,154.05 196.28,155.27 197.58,155.32 196.56,156.14 196.91,157.39 195.82,156.67 194.73,157.39 195.08,156.14 194.06,155.32 195.37,155.27" fill="#fff" fill-opacity="0.6" stroke="#f0406e" stroke-width="0.75"/>
<polygon points="205.59,139.61 206.05,140.83 207.35,140.89 206.33,141.7 206.68,142.96 205.59,142.24 204.51,142.96 204.86,141.7 203.83,140.89 205.14,140.83" fill="#fff" fill-opacity="0.6" stroke="#f0406e" stroke-width="0.75"/>
<polygon points="219.55,107.86 220.01,109.08 221.31,109.14 220.29,109.95 220.64,111.21 219.55,110.49 218.47,111.21 218.82,109.95 217.79,109.14 219.1,109.08" fill="#fff" fill-opacity="0.6" stroke="#f0406e" stroke-width="0.75"/>
<polygon points="225.14,90.54 225.59,91.76 226.9,91.82 225.88,92.63 226.23,93.89 225.14,93.17 224.05,93.89 224.4,92.63 223.38,91.82 224.68,91.76" fill="#fff" fill-opacity="0.6" stroke="#f0406e" stroke-width="0.75"/>
<polygon points="234.21,54.46 234.67,55.68 235.97,55.73 234.95,56.55 235.3,57.8 234.21,57.08 233.12,57.8 233.47,56.55 232.45,55.73 233.76,55.68" fill="#fff" fill-opacity="0.6" stroke="#f0406e" stroke-width="0.75"/>
<polygon points="238.4,35.69 238.86,36.91 240.16,36.97 239.14,37.78 239.49,39.04 238.4,38.32 237.31,39.04 237.66,37.78 236.64,36.97 237.94,36.91" fill="#fff" fill-opacity="0.6" stroke="#f0406e" stroke-width="0.75"/>
<rect x="169.9" y="25.4" width="3.6" height="3.6" fill="#151515"/>
<polygon points="171.7,33.95 172.16,35.17 173.46,35.23 172.44,36.04 172.79,37.3 171.7,36.58 170.61,37.3 170.96,36.04 169.94,35.23 171.24,35.17" fill="#fff" fill-opacity="0.6" stroke="#f0406e" stroke-width="0.75"/>
<line x1="163.6" y1="44.8" x2="179.4" y2="44.8" stroke="#4558e6" stroke-width="1.2"/>
<text x="182" y="29.5" font-size="6.8" text-anchor="start" fill="#111" stroke="#111" stroke-width="0.3" font-family='"Liberation Sans", Arial, sans-serif' font-weight="normal" font-style="normal" letter-spacing="0.2">Experiment</text>
<text x="182" y="38.4" font-size="6.8" text-anchor="start" fill="#111" stroke="#111" stroke-width="0.3" font-family='"Liberation Sans", Arial, sans-serif' font-weight="normal" font-style="normal" letter-spacing="0.2">Theory</text>
<text x="182" y="47.4" font-size="6.8" text-anchor="start" fill="#111" stroke="#111" stroke-width="0.3" font-family='"Liberation Sans", Arial, sans-serif' font-weight="normal" font-style="normal" letter-spacing="0.2">Fit Curve</text>
<text x="162.4" y="174.1" font-size="7.5" fill="#4558e6" stroke="#4558e6" stroke-width="0.3" font-family='"Liberation Sans", Arial, sans-serif' letter-spacing="0.12">y=1.575-0.078<tspan font-family='"Liberation Serif", "Times New Roman", serif' font-style="italic" font-size="6.4">x</tspan>+0.151<tspan font-family='"Liberation Serif", "Times New Roman", serif' font-style="italic" font-size="6.4">x</tspan><tspan font-size="4.6" dy="-2.8">2</tspan></text>
<text x="203.3" y="202.8" font-size="9.9" text-anchor="middle" fill="#111" stroke="#111" stroke-width="0.42" font-family='"Liberation Sans", Arial, sans-serif' letter-spacing="0.2">W composition <tspan font-family='"Liberation Serif", "Times New Roman", serif' font-style="italic" font-size="10.4" stroke-width="0.1">x</tspan></text>
<text x="134" y="107" font-size="10.4" text-anchor="middle" fill="#111" stroke="#111" stroke-width="0.42" font-family='"Liberation Sans", Arial, sans-serif' font-weight="normal" font-style="normal" transform="rotate(-90 134 107)" letter-spacing="0.22">Emission Energy (eV)</text>
<text x="279.4" y="105" font-size="10.5" text-anchor="middle" fill="#f02846" stroke="#f02846" stroke-width="0.35" font-family='"Liberation Sans", Arial, sans-serif' font-weight="normal" font-style="normal" transform="rotate(-90 279.4 105)" letter-spacing="0.22">Band gap (eV)</text>
<text x="289.4" y="19.7" font-size="15.2" text-anchor="start" fill="#111" stroke="#111" stroke-width="0.15" font-family='"Liberation Serif", "Times New Roman", serif' font-weight="bold" font-style="normal" letter-spacing="1">(c)</text>
<path d="M323 176.66 L323.52 176.65 L324.03 176.64 L324.55 176.62 L325.07 176.61 L325.58 176.59 L326.1 176.58 L326.62 176.56 L327.13 176.54 L327.65 176.52 L328.17 176.5 L328.69 176.48 L329.2 176.46 L329.72 176.44 L330.24 176.41 L330.75 176.38 L331.27 176.35 L331.79 176.32 L332.3 176.29 L332.82 176.25 L333.34 176.21 L333.85 176.17 L334.37 176.12 L334.89 176.07 L335.41 176.02 L335.92 175.96 L336.44 175.9 L336.96 175.83 L337.47 175.75 L337.99 175.67 L338.51 175.58 L339.02 175.49 L339.54 175.39 L340.06 175.28 L340.57 175.16 L341.09 175.04 L341.61 174.9 L342.12 174.76 L342.64 174.6 L343.16 174.44 L343.68 174.27 L344.19 174.08 L344.71 173.89 L345.23 173.68 L345.74 173.47 L346.26 173.25 L346.78 173.01 L347.29 172.77 L347.81 172.52 L348.33 172.27 L348.84 172 L349.36 171.73 L349.88 171.46 L350.39 171.19 L350.91 170.92 L351.43 170.65 L351.95 170.38 L352.46 170.13 L352.98 169.88 L353.5 169.65 L354.01 169.44 L354.53 169.24 L355.05 169.06 L355.56 168.91 L356.08 168.78 L356.6 168.67 L357.11 168.58 L357.63 168.5 L358.15 168.45 L358.66 168.4 L359.18 168.35 L359.7 168.31 L360.21 168.26 L360.73 168.2 L361.25 168.12 L361.77 168.02 L362.28 167.9 L362.8 167.75 L363.32 167.58 L363.83 167.37 L364.35 167.14 L364.87 166.89 L365.38 166.62 L365.9 166.34 L366.42 166.06 L366.93 165.8 L367.45 165.57 L367.97 165.39 L368.49 165.27 L369 165.24 L369.52 165.31 L370.04 165.48 L370.55 165.75 L371.07 166.12 L371.59 166.57 L372.1 167.08 L372.62 167.64 L373.14 168.23 L373.65 168.83 L374.17 169.43 L374.69 170.02 L375.2 170.59 L375.72 171.13 L376.24 171.65 L376.75 172.12 L377.27 172.57 L377.79 172.98 L378.31 173.35 L378.82 173.69 L379.34 174 L379.86 174.27 L380.37 174.52 L380.89 174.73 L381.41 174.93 L381.92 175.1 L382.44 175.25 L382.96 175.39 L383.47 175.5 L383.99 175.61 L384.51 175.7 L385.02 175.79 L385.54 175.86 L386.06 175.93 L386.58 175.99 L387.09 176.04 L387.61 176.09 L388.13 176.14 L388.64 176.18 L389.16 176.22 L389.68 176.26 L390.19 176.29 L390.71 176.32 L391.23 176.35 L391.74 176.38 L392.26 176.41 L392.78 176.43 L393.3 176.45 L393.81 176.48 L394.33 176.5 L394.85 176.52 L395.36 176.54 L395.88 176.55 L396.4 176.57 L396.91 176.59 L397.43 176.6 L397.95 176.62 L398.46 176.63 L398.98 176.65 L399.5 176.66 L400.01 176.67 L400.53 176.68 L401.05 176.69 L401.56 176.71 L402.08 176.72 L402.6 176.73 L403.12 176.74 L403.63 176.75 L404.15 176.75 L404.67 176.76 L405.18 176.77 L405.7 176.78" fill="none" stroke="#222222" stroke-width="1.5" stroke-linejoin="round" stroke-linecap="round"/>
<path d="M325.58 162.63 L326.1 162.61 L326.62 162.59 L327.13 162.57 L327.65 162.54 L328.17 162.52 L328.69 162.49 L329.2 162.46 L329.72 162.42 L330.24 162.39 L330.75 162.35 L331.27 162.31 L331.79 162.27 L332.3 162.22 L332.82 162.17 L333.34 162.11 L333.85 162.05 L334.37 161.99 L334.89 161.91 L335.41 161.84 L335.92 161.75 L336.44 161.66 L336.96 161.57 L337.47 161.46 L337.99 161.35 L338.51 161.23 L339.02 161.1 L339.54 160.96 L340.06 160.81 L340.57 160.65 L341.09 160.48 L341.61 160.3 L342.12 160.11 L342.64 159.9 L343.16 159.69 L343.68 159.47 L344.19 159.23 L344.71 158.99 L345.23 158.73 L345.74 158.47 L346.26 158.2 L346.78 157.92 L347.29 157.64 L347.81 157.35 L348.33 157.06 L348.84 156.77 L349.36 156.48 L349.88 156.2 L350.39 155.92 L350.91 155.66 L351.43 155.41 L351.95 155.17 L352.46 154.96 L352.98 154.76 L353.5 154.59 L354.01 154.45 L354.53 154.33 L355.05 154.24 L355.56 154.16 L356.08 154.11 L356.6 154.08 L357.11 154.05 L357.63 154.04 L358.15 154.02 L358.66 154 L359.18 153.98 L359.7 153.94 L360.21 153.89 L360.73 153.82 L361.25 153.73 L361.77 153.62 L362.28 153.49 L362.8 153.34 L363.32 153.17 L363.83 153 L364.35 152.82 L364.87 152.65 L365.38 152.49 L365.9 152.36 L366.42 152.28 L366.93 152.25 L367.45 152.29 L367.97 152.4 L368.49 152.59 L369 152.86 L369.52 153.2 L370.04 153.6 L370.55 154.05 L371.07 154.53 L371.59 155.04 L372.1 155.55 L372.62 156.07 L373.14 156.58 L373.65 157.07 L374.17 157.55 L374.69 158 L375.2 158.42 L375.72 158.82 L376.24 159.19 L376.75 159.53 L377.27 159.85 L377.79 160.13 L378.31 160.39 L378.82 160.62 L379.34 160.84 L379.86 161.02 L380.37 161.19 L380.89 161.35 L381.41 161.48 L381.92 161.6 L382.44 161.71 L382.96 161.8 L383.47 161.89 L383.99 161.97 L384.51 162.04 L385.02 162.1 L385.54 162.16 L386.06 162.21 L386.58 162.25 L387.09 162.3 L387.61 162.34 L388.13 162.37 L388.64 162.41 L389.16 162.44 L389.68 162.47 L390.19 162.5 L390.71 162.52 L391.23 162.55 L391.74 162.57 L392.26 162.6 L392.78 162.62 L393.3 162.64 L393.81 162.66 L394.33 162.67 L394.85 162.69 L395.36 162.71 L395.88 162.72 L396.4 162.74 L396.91 162.75 L397.43 162.77 L397.95 162.78 L398.46 162.79 L398.98 162.81 L399.5 162.82 L400.01 162.83 L400.53 162.84 L401.05 162.85 L401.56 162.86 L402.08 162.87 L402.6 162.88 L403.12 162.89 L403.63 162.9 L404.15 162.9 L404.67 162.91 L405.18 162.92 L405.7 162.93" fill="none" stroke="#f0283c" stroke-width="2" stroke-linejoin="round" stroke-linecap="round"/>
<path d="M323 149.44 L323.52 149.43 L324.03 149.42 L324.55 149.41 L325.07 149.39 L325.58 149.38 L326.1 149.37 L326.62 149.35 L327.13 149.33 L327.65 149.31 L328.17 149.29 L328.69 149.27 L329.2 149.25 L329.72 149.22 L330.24 149.2 L330.75 149.17 L331.27 149.13 L331.79 149.1 L332.3 149.06 L332.82 149.02 L333.34 148.97 L333.85 148.92 L334.37 148.86 L334.89 148.8 L335.41 148.73 L335.92 148.65 L336.44 148.56 L336.96 148.47 L337.47 148.36 L337.99 148.24 L338.51 148.11 L339.02 147.96 L339.54 147.8 L340.06 147.63 L340.57 147.44 L341.09 147.23 L341.61 147 L342.12 146.75 L342.64 146.48 L343.16 146.19 L343.68 145.89 L344.19 145.56 L344.71 145.21 L345.23 144.84 L345.74 144.46 L346.26 144.06 L346.78 143.65 L347.29 143.23 L347.81 142.8 L348.33 142.38 L348.84 141.95 L349.36 141.54 L349.88 141.15 L350.39 140.78 L350.91 140.45 L351.43 140.16 L351.95 139.92 L352.46 139.72 L352.98 139.58 L353.5 139.49 L354.01 139.45 L354.53 139.45 L355.05 139.48 L355.56 139.54 L356.08 139.61 L356.6 139.69 L357.11 139.76 L357.63 139.83 L358.15 139.89 L358.66 139.93 L359.18 139.95 L359.7 139.96 L360.21 139.96 L360.73 139.96 L361.25 139.96 L361.77 139.97 L362.28 140.01 L362.8 140.1 L363.32 140.23 L363.83 140.42 L364.35 140.66 L364.87 140.97 L365.38 141.34 L365.9 141.75 L366.42 142.19 L366.93 142.66 L367.45 143.14 L367.97 143.63 L368.49 144.1 L369 144.57 L369.52 145.01 L370.04 145.43 L370.55 145.83 L371.07 146.21 L371.59 146.55 L372.1 146.87 L372.62 147.16 L373.14 147.43 L373.65 147.67 L374.17 147.89 L374.69 148.09 L375.2 148.26 L375.72 148.42 L376.24 148.56 L376.75 148.69 L377.27 148.8 L377.79 148.9 L378.31 148.99 L378.82 149.07 L379.34 149.14 L379.86 149.21 L380.37 149.27 L380.89 149.32 L381.41 149.37 L381.92 149.41 L382.44 149.46 L382.96 149.49 L383.47 149.53 L383.99 149.56 L384.51 149.6 L385.02 149.63 L385.54 149.65 L386.06 149.68 L386.58 149.71 L387.09 149.73 L387.61 149.75 L388.13 149.78 L388.64 149.8 L389.16 149.82 L389.68 149.84 L390.19 149.85 L390.71 149.87 L391.23 149.89 L391.74 149.91 L392.26 149.92 L392.78 149.94 L393.3 149.95 L393.81 149.97 L394.33 149.98 L394.85 149.99 L395.36 150.01 L395.88 150.02 L396.4 150.03 L396.91 150.04 L397.43 150.05 L397.95 150.06 L398.46 150.08 L398.98 150.09 L399.5 150.1 L400.01 150.11 L400.53 150.12 L401.05 150.13 L401.56 150.14 L402.08 150.14 L402.6 150.15 L403.12 150.16 L403.63 150.17 L404.15 150.18 L404.67 150.19 L405.18 150.2 L405.7 150.2" fill="none" stroke="#3b5be0" stroke-width="1.5" stroke-linejoin="round" stroke-linecap="round"/>
<path d="M323 135.28 L323.52 135.27 L324.03 135.26 L324.55 135.24 L325.07 135.22 L325.58 135.21 L326.1 135.19 L326.62 135.17 L327.13 135.15 L327.65 135.12 L328.17 135.1 L328.69 135.07 L329.2 135.04 L329.72 135 L330.24 134.96 L330.75 134.92 L331.27 134.87 L331.79 134.82 L332.3 134.76 L332.82 134.69 L333.34 134.62 L333.85 134.54 L334.37 134.44 L334.89 134.33 L335.41 134.21 L335.92 134.08 L336.44 133.93 L336.96 133.76 L337.47 133.57 L337.99 133.36 L338.51 133.12 L339.02 132.86 L339.54 132.58 L340.06 132.27 L340.57 131.94 L341.09 131.57 L341.61 131.18 L342.12 130.77 L342.64 130.33 L343.16 129.87 L343.68 129.39 L344.19 128.89 L344.71 128.39 L345.23 127.88 L345.74 127.39 L346.26 126.91 L346.78 126.46 L347.29 126.05 L347.81 125.69 L348.33 125.4 L348.84 125.19 L349.36 125.05 L349.88 125 L350.39 125.02 L350.91 125.11 L351.43 125.26 L351.95 125.45 L352.46 125.68 L352.98 125.92 L353.5 126.17 L354.01 126.42 L354.53 126.67 L355.05 126.9 L355.56 127.11 L356.08 127.31 L356.6 127.5 L357.11 127.67 L357.63 127.84 L358.15 128 L358.66 128.17 L359.18 128.36 L359.7 128.56 L360.21 128.78 L360.73 129.02 L361.25 129.29 L361.77 129.58 L362.28 129.89 L362.8 130.22 L363.32 130.55 L363.83 130.89 L364.35 131.22 L364.87 131.55 L365.38 131.87 L365.9 132.18 L366.42 132.47 L366.93 132.75 L367.45 133.02 L367.97 133.27 L368.49 133.5 L369 133.71 L369.52 133.91 L370.04 134.1 L370.55 134.27 L371.07 134.42 L371.59 134.56 L372.1 134.69 L372.62 134.81 L373.14 134.92 L373.65 135.01 L374.17 135.1 L374.69 135.18 L375.2 135.25 L375.72 135.31 L376.24 135.37 L376.75 135.43 L377.27 135.48 L377.79 135.52 L378.31 135.56 L378.82 135.6 L379.34 135.64 L379.86 135.67 L380.37 135.7 L380.89 135.73 L381.41 135.76 L381.92 135.79 L382.44 135.81 L382.96 135.84 L383.47 135.86 L383.99 135.88 L384.51 135.9 L385.02 135.92 L385.54 135.94 L386.06 135.96 L386.58 135.98 L387.09 135.99 L387.61 136.01 L388.13 136.03 L388.64 136.04 L389.16 136.06 L389.68 136.07 L390.19 136.08 L390.71 136.1 L391.23 136.11 L391.74 136.13 L392.26 136.14 L392.78 136.15 L393.3 136.16 L393.81 136.17 L394.33 136.19 L394.85 136.2 L395.36 136.21 L395.88 136.22 L396.4 136.23 L396.91 136.24 L397.43 136.25 L397.95 136.26 L398.46 136.27 L398.98 136.28 L399.5 136.29 L400.01 136.3 L400.53 136.31 L401.05 136.32 L401.56 136.33 L402.08 136.34 L402.6 136.34 L403.12 136.35 L403.63 136.36 L404.15 136.37 L404.67 136.38 L405.18 136.39 L405.7 136.39" fill="none" stroke="#c23ad6" stroke-width="1.5" stroke-linejoin="round" stroke-linecap="round"/>
<path d="M323 121.02 L323.52 121.01 L324.03 120.99 L324.55 120.98 L325.07 120.96 L325.58 120.95 L326.1 120.93 L326.62 120.91 L327.13 120.89 L327.65 120.86 L328.17 120.84 L328.69 120.81 L329.2 120.78 L329.72 120.74 L330.24 120.7 L330.75 120.66 L331.27 120.61 L331.79 120.56 L332.3 120.5 L332.82 120.43 L333.34 120.35 L333.85 120.26 L334.37 120.17 L334.89 120.06 L335.41 119.93 L335.92 119.79 L336.44 119.64 L336.96 119.46 L337.47 119.27 L337.99 119.05 L338.51 118.81 L339.02 118.55 L339.54 118.26 L340.06 117.94 L340.57 117.6 L341.09 117.23 L341.61 116.83 L342.12 116.4 L342.64 115.96 L343.16 115.49 L343.68 115 L344.19 114.5 L344.71 114 L345.23 113.49 L345.74 113 L346.26 112.53 L346.78 112.09 L347.29 111.69 L347.81 111.36 L348.33 111.09 L348.84 110.9 L349.36 110.79 L349.88 110.75 L350.39 110.8 L350.91 110.91 L351.43 111.07 L351.95 111.28 L352.46 111.52 L352.98 111.79 L353.5 112.06 L354.01 112.34 L354.53 112.61 L355.05 112.88 L355.56 113.14 L356.08 113.4 L356.6 113.65 L357.11 113.89 L357.63 114.14 L358.15 114.39 L358.66 114.64 L359.18 114.9 L359.7 115.17 L360.21 115.45 L360.73 115.73 L361.25 116.03 L361.77 116.32 L362.28 116.62 L362.8 116.92 L363.32 117.21 L363.83 117.5 L364.35 117.78 L364.87 118.06 L365.38 118.32 L365.9 118.57 L366.42 118.8 L366.93 119.03 L367.45 119.24 L367.97 119.44 L368.49 119.63 L369 119.8 L369.52 119.97 L370.04 120.12 L370.55 120.26 L371.07 120.39 L371.59 120.51 L372.1 120.62 L372.62 120.72 L373.14 120.81 L373.65 120.9 L374.17 120.98 L374.69 121.05 L375.2 121.12 L375.72 121.18 L376.24 121.23 L376.75 121.29 L377.27 121.33 L377.79 121.38 L378.31 121.42 L378.82 121.46 L379.34 121.49 L379.86 121.52 L380.37 121.56 L380.89 121.59 L381.41 121.61 L381.92 121.64 L382.44 121.66 L382.96 121.69 L383.47 121.71 L383.99 121.73 L384.51 121.75 L385.02 121.77 L385.54 121.79 L386.06 121.81 L386.58 121.83 L387.09 121.85 L387.61 121.86 L388.13 121.88 L388.64 121.9 L389.16 121.91 L389.68 121.93 L390.19 121.94 L390.71 121.96 L391.23 121.97 L391.74 121.98 L392.26 122 L392.78 122.01 L393.3 122.02 L393.81 122.03 L394.33 122.05 L394.85 122.06 L395.36 122.07 L395.88 122.08 L396.4 122.09 L396.91 122.1 L397.43 122.12 L397.95 122.13 L398.46 122.14 L398.98 122.15 L399.5 122.16 L400.01 122.17 L400.53 122.18 L401.05 122.19 L401.56 122.2 L402.08 122.21 L402.6 122.22 L403.12 122.22 L403.63 122.23 L404.15 122.24 L404.67 122.25 L405.18 122.26 L405.7 122.27" fill="none" stroke="#2fb37a" stroke-width="1.5" stroke-linejoin="round" stroke-linecap="round"/>
<path d="M323 107.52 L323.52 107.5 L324.03 107.48 L324.55 107.47 L325.07 107.45 L325.58 107.43 L326.1 107.41 L326.62 107.38 L327.13 107.36 L327.65 107.33 L328.17 107.3 L328.69 107.27 L329.2 107.23 L329.72 107.19 L330.24 107.15 L330.75 107.1 L331.27 107.04 L331.79 106.98 L332.3 106.91 L332.82 106.83 L333.34 106.75 L333.85 106.65 L334.37 106.54 L334.89 106.42 L335.41 106.27 L335.92 106.12 L336.44 105.94 L336.96 105.74 L337.47 105.52 L337.99 105.27 L338.51 104.99 L339.02 104.69 L339.54 104.35 L340.06 103.99 L340.57 103.59 L341.09 103.17 L341.61 102.71 L342.12 102.23 L342.64 101.71 L343.16 101.18 L343.68 100.63 L344.19 100.06 L344.71 99.5 L345.23 98.94 L345.74 98.4 L346.26 97.89 L346.78 97.43 L347.29 97.04 L347.81 96.72 L348.33 96.49 L348.84 96.36 L349.36 96.31 L349.88 96.36 L350.39 96.48 L350.91 96.67 L351.43 96.92 L351.95 97.2 L352.46 97.51 L352.98 97.83 L353.5 98.16 L354.01 98.48 L354.53 98.8 L355.05 99.12 L355.56 99.42 L356.08 99.72 L356.6 100.02 L357.11 100.31 L357.63 100.6 L358.15 100.89 L358.66 101.19 L359.18 101.5 L359.7 101.81 L360.21 102.12 L360.73 102.44 L361.25 102.75 L361.77 103.07 L362.28 103.38 L362.8 103.68 L363.32 103.97 L363.83 104.25 L364.35 104.53 L364.87 104.78 L365.38 105.03 L365.9 105.26 L366.42 105.48 L366.93 105.69 L367.45 105.89 L367.97 106.07 L368.49 106.24 L369 106.39 L369.52 106.54 L370.04 106.67 L370.55 106.8 L371.07 106.91 L371.59 107.02 L372.1 107.11 L372.62 107.2 L373.14 107.28 L373.65 107.36 L374.17 107.42 L374.69 107.49 L375.2 107.54 L375.72 107.6 L376.24 107.64 L376.75 107.69 L377.27 107.73 L377.79 107.77 L378.31 107.8 L378.82 107.84 L379.34 107.87 L379.86 107.9 L380.37 107.92 L380.89 107.95 L381.41 107.97 L381.92 108 L382.44 108.02 L382.96 108.04 L383.47 108.06 L383.99 108.08 L384.51 108.1 L385.02 108.12 L385.54 108.13 L386.06 108.15 L386.58 108.16 L387.09 108.18 L387.61 108.19 L388.13 108.21 L388.64 108.22 L389.16 108.24 L389.68 108.25 L390.19 108.26 L390.71 108.27 L391.23 108.29 L391.74 108.3 L392.26 108.31 L392.78 108.32 L393.3 108.33 L393.81 108.34 L394.33 108.35 L394.85 108.36 L395.36 108.37 L395.88 108.38 L396.4 108.39 L396.91 108.4 L397.43 108.41 L397.95 108.42 L398.46 108.43 L398.98 108.44 L399.5 108.44 L400.01 108.45 L400.53 108.46 L401.05 108.47 L401.56 108.48 L402.08 108.48 L402.6 108.49 L403.12 108.5 L403.63 108.51 L404.15 108.51 L404.67 108.52 L405.18 108.53 L405.7 108.54" fill="none" stroke="#a236d8" stroke-width="1.5" stroke-linejoin="round" stroke-linecap="round"/>
<path d="M323 93.81 L323.52 93.79 L324.03 93.78 L324.55 93.76 L325.07 93.74 L325.58 93.72 L326.1 93.7 L326.62 93.67 L327.13 93.65 L327.65 93.62 L328.17 93.59 L328.69 93.56 L329.2 93.53 L329.72 93.49 L330.24 93.45 L330.75 93.4 L331.27 93.35 L331.79 93.3 L332.3 93.24 L332.82 93.17 L333.34 93.09 L333.85 93.01 L334.37 92.91 L334.89 92.8 L335.41 92.68 L335.92 92.54 L336.44 92.39 L336.96 92.21 L337.47 92.02 L337.99 91.8 L338.51 91.56 L339.02 91.3 L339.54 91 L340.06 90.68 L340.57 90.33 L341.09 89.95 L341.61 89.54 L342.12 89.11 L342.64 88.64 L343.16 88.16 L343.68 87.65 L344.19 87.12 L344.71 86.59 L345.23 86.05 L345.74 85.53 L346.26 85.02 L346.78 84.55 L347.29 84.12 L347.81 83.76 L348.33 83.47 L348.84 83.26 L349.36 83.13 L349.88 83.09 L350.39 83.14 L350.91 83.25 L351.43 83.43 L351.95 83.65 L352.46 83.9 L352.98 84.17 L353.5 84.46 L354.01 84.75 L354.53 85.04 L355.05 85.33 L355.56 85.6 L356.08 85.87 L356.6 86.13 L357.11 86.39 L357.63 86.65 L358.15 86.9 L358.66 87.16 L359.18 87.43 L359.7 87.69 L360.21 87.97 L360.73 88.25 L361.25 88.53 L361.77 88.82 L362.28 89.1 L362.8 89.39 L363.32 89.67 L363.83 89.94 L364.35 90.21 L364.87 90.46 L365.38 90.71 L365.9 90.95 L366.42 91.18 L366.93 91.39 L367.45 91.6 L367.97 91.79 L368.49 91.97 L369 92.14 L369.52 92.3 L370.04 92.45 L370.55 92.59 L371.07 92.72 L371.59 92.83 L372.1 92.94 L372.62 93.05 L373.14 93.14 L373.65 93.23 L374.17 93.3 L374.69 93.38 L375.2 93.44 L375.72 93.5 L376.24 93.56 L376.75 93.61 L377.27 93.66 L377.79 93.7 L378.31 93.74 L378.82 93.78 L379.34 93.81 L379.86 93.84 L380.37 93.87 L380.89 93.9 L381.41 93.92 L381.92 93.95 L382.44 93.97 L382.96 93.99 L383.47 94.01 L383.99 94.03 L384.51 94.04 L385.02 94.06 L385.54 94.08 L386.06 94.09 L386.58 94.11 L387.09 94.12 L387.61 94.13 L388.13 94.15 L388.64 94.16 L389.16 94.17 L389.68 94.18 L390.19 94.19 L390.71 94.2 L391.23 94.21 L391.74 94.22 L392.26 94.23 L392.78 94.24 L393.3 94.25 L393.81 94.26 L394.33 94.27 L394.85 94.28 L395.36 94.28 L395.88 94.29 L396.4 94.3 L396.91 94.31 L397.43 94.31 L397.95 94.32 L398.46 94.33 L398.98 94.33 L399.5 94.34 L400.01 94.35 L400.53 94.35 L401.05 94.36 L401.56 94.36 L402.08 94.37 L402.6 94.37 L403.12 94.38 L403.63 94.39 L404.15 94.39 L404.67 94.4 L405.18 94.4 L405.7 94.41" fill="none" stroke="#2c4ae8" stroke-width="1.5" stroke-linejoin="round" stroke-linecap="round"/>
<path d="M323 78.91 L323.52 78.89 L324.03 78.88 L324.55 78.86 L325.07 78.84 L325.58 78.82 L326.1 78.8 L326.62 78.78 L327.13 78.76 L327.65 78.73 L328.17 78.7 L328.69 78.67 L329.2 78.64 L329.72 78.6 L330.24 78.56 L330.75 78.52 L331.27 78.47 L331.79 78.41 L332.3 78.35 L332.82 78.29 L333.34 78.21 L333.85 78.12 L334.37 78.03 L334.89 77.92 L335.41 77.8 L335.92 77.66 L336.44 77.51 L336.96 77.34 L337.47 77.15 L337.99 76.94 L338.51 76.71 L339.02 76.45 L339.54 76.17 L340.06 75.86 L340.57 75.53 L341.09 75.17 L341.61 74.79 L342.12 74.38 L342.64 73.95 L343.16 73.5 L343.68 73.03 L344.19 72.54 L344.71 72.05 L345.23 71.57 L345.74 71.09 L346.26 70.63 L346.78 70.2 L347.29 69.81 L347.81 69.48 L348.33 69.21 L348.84 69.01 L349.36 68.89 L349.88 68.85 L350.39 68.87 L350.91 68.96 L351.43 69.1 L351.95 69.28 L352.46 69.49 L352.98 69.72 L353.5 69.96 L354.01 70.2 L354.53 70.44 L355.05 70.68 L355.56 70.91 L356.08 71.12 L356.6 71.34 L357.11 71.54 L357.63 71.75 L358.15 71.96 L358.66 72.17 L359.18 72.39 L359.7 72.61 L360.21 72.85 L360.73 73.1 L361.25 73.36 L361.77 73.62 L362.28 73.9 L362.8 74.18 L363.32 74.45 L363.83 74.73 L364.35 75.01 L364.87 75.28 L365.38 75.54 L365.9 75.8 L366.42 76.04 L366.93 76.28 L367.45 76.5 L367.97 76.71 L368.49 76.92 L369 77.11 L369.52 77.29 L370.04 77.45 L370.55 77.61 L371.07 77.76 L371.59 77.89 L372.1 78.02 L372.62 78.14 L373.14 78.25 L373.65 78.35 L374.17 78.44 L374.69 78.52 L375.2 78.6 L375.72 78.67 L376.24 78.74 L376.75 78.8 L377.27 78.85 L377.79 78.9 L378.31 78.95 L378.82 78.99 L379.34 79.03 L379.86 79.07 L380.37 79.1 L380.89 79.13 L381.41 79.16 L381.92 79.19 L382.44 79.22 L382.96 79.24 L383.47 79.26 L383.99 79.29 L384.51 79.31 L385.02 79.33 L385.54 79.35 L386.06 79.36 L386.58 79.38 L387.09 79.4 L387.61 79.41 L388.13 79.43 L388.64 79.44 L389.16 79.46 L389.68 79.47 L390.19 79.48 L390.71 79.5 L391.23 79.51 L391.74 79.52 L392.26 79.53 L392.78 79.54 L393.3 79.55 L393.81 79.57 L394.33 79.58 L394.85 79.59 L395.36 79.6 L395.88 79.61 L396.4 79.62 L396.91 79.62 L397.43 79.63 L397.95 79.64 L398.46 79.65 L398.98 79.66 L399.5 79.67 L400.01 79.68 L400.53 79.68 L401.05 79.69 L401.56 79.7 L402.08 79.71 L402.6 79.71 L403.12 79.72 L403.63 79.73 L404.15 79.73 L404.67 79.74 L405.18 79.75 L405.7 79.76" fill="none" stroke="#a8141e" stroke-width="1.7" stroke-linejoin="round" stroke-linecap="round"/>
<path d="M323 64.74 L323.52 64.72 L324.03 64.71 L324.55 64.69 L325.07 64.67 L325.58 64.65 L326.1 64.63 L326.62 64.6 L327.13 64.57 L327.65 64.54 L328.17 64.51 L328.69 64.47 L329.2 64.43 L329.72 64.38 L330.24 64.33 L330.75 64.27 L331.27 64.21 L331.79 64.14 L332.3 64.05 L332.82 63.96 L333.34 63.85 L333.85 63.74 L334.37 63.6 L334.89 63.45 L335.41 63.29 L335.92 63.1 L336.44 62.89 L336.96 62.66 L337.47 62.41 L337.99 62.14 L338.51 61.84 L339.02 61.51 L339.54 61.16 L340.06 60.78 L340.57 60.38 L341.09 59.96 L341.61 59.51 L342.12 59.05 L342.64 58.58 L343.16 58.11 L343.68 57.63 L344.19 57.17 L344.71 56.73 L345.23 56.32 L345.74 55.95 L346.26 55.64 L346.78 55.39 L347.29 55.21 L347.81 55.11 L348.33 55.08 L348.84 55.12 L349.36 55.21 L349.88 55.36 L350.39 55.54 L350.91 55.76 L351.43 55.99 L351.95 56.23 L352.46 56.47 L352.98 56.71 L353.5 56.95 L354.01 57.19 L354.53 57.41 L355.05 57.64 L355.56 57.86 L356.08 58.09 L356.6 58.31 L357.11 58.55 L357.63 58.79 L358.15 59.04 L358.66 59.29 L359.18 59.56 L359.7 59.83 L360.21 60.11 L360.73 60.39 L361.25 60.67 L361.77 60.95 L362.28 61.22 L362.8 61.49 L363.32 61.74 L363.83 62 L364.35 62.24 L364.87 62.47 L365.38 62.69 L365.9 62.89 L366.42 63.09 L366.93 63.28 L367.45 63.45 L367.97 63.62 L368.49 63.77 L369 63.91 L369.52 64.05 L370.04 64.17 L370.55 64.29 L371.07 64.39 L371.59 64.49 L372.1 64.58 L372.62 64.66 L373.14 64.74 L373.65 64.81 L374.17 64.88 L374.69 64.94 L375.2 64.99 L375.72 65.04 L376.24 65.09 L376.75 65.13 L377.27 65.17 L377.79 65.21 L378.31 65.25 L378.82 65.28 L379.34 65.31 L379.86 65.34 L380.37 65.37 L380.89 65.39 L381.41 65.42 L381.92 65.44 L382.44 65.47 L382.96 65.49 L383.47 65.51 L383.99 65.53 L384.51 65.55 L385.02 65.57 L385.54 65.58 L386.06 65.6 L386.58 65.62 L387.09 65.63 L387.61 65.65 L388.13 65.66 L388.64 65.68 L389.16 65.69 L389.68 65.71 L390.19 65.72 L390.71 65.74 L391.23 65.75 L391.74 65.76 L392.26 65.77 L392.78 65.79 L393.3 65.8 L393.81 65.81 L394.33 65.82 L394.85 65.83 L395.36 65.84 L395.88 65.86 L396.4 65.87 L396.91 65.88 L397.43 65.89 L397.95 65.9 L398.46 65.91 L398.98 65.92 L399.5 65.93 L400.01 65.94 L400.53 65.95 L401.05 65.96 L401.56 65.97 L402.08 65.98 L402.6 65.98 L403.12 65.99 L403.63 66 L404.15 66.01 L404.67 66.02 L405.18 66.03 L405.7 66.04" fill="none" stroke="#8a52ee" stroke-width="1.6" stroke-linejoin="round" stroke-linecap="round"/>
<path d="M323 49.82 L323.52 49.81 L324.03 49.81 L324.55 49.8 L325.07 49.79 L325.58 49.77 L326.1 49.76 L326.62 49.75 L327.13 49.73 L327.65 49.72 L328.17 49.7 L328.69 49.68 L329.2 49.66 L329.72 49.63 L330.24 49.6 L330.75 49.57 L331.27 49.54 L331.79 49.5 L332.3 49.46 L332.82 49.41 L333.34 49.35 L333.85 49.29 L334.37 49.22 L334.89 49.14 L335.41 49.05 L335.92 48.95 L336.44 48.84 L336.96 48.71 L337.47 48.56 L337.99 48.4 L338.51 48.22 L339.02 48.03 L339.54 47.81 L340.06 47.57 L340.57 47.3 L341.09 47.02 L341.61 46.71 L342.12 46.38 L342.64 46.02 L343.16 45.64 L343.68 45.24 L344.19 44.83 L344.71 44.4 L345.23 43.96 L345.74 43.52 L346.26 43.08 L346.78 42.66 L347.29 42.26 L347.81 41.89 L348.33 41.56 L348.84 41.28 L349.36 41.05 L349.88 40.88 L350.39 40.77 L350.91 40.71 L351.43 40.71 L351.95 40.75 L352.46 40.83 L352.98 40.94 L353.5 41.08 L354.01 41.24 L354.53 41.42 L355.05 41.63 L355.56 41.85 L356.08 42.1 L356.6 42.37 L357.11 42.66 L357.63 42.96 L358.15 43.29 L358.66 43.63 L359.18 43.99 L359.7 44.35 L360.21 44.71 L360.73 45.07 L361.25 45.43 L361.77 45.78 L362.28 46.12 L362.8 46.44 L363.32 46.75 L363.83 47.05 L364.35 47.33 L364.87 47.59 L365.38 47.84 L365.9 48.07 L366.42 48.28 L366.93 48.48 L367.45 48.67 L367.97 48.84 L368.49 49 L369 49.15 L369.52 49.28 L370.04 49.4 L370.55 49.52 L371.07 49.62 L371.59 49.71 L372.1 49.8 L372.62 49.88 L373.14 49.95 L373.65 50.02 L374.17 50.08 L374.69 50.14 L375.2 50.19 L375.72 50.24 L376.24 50.28 L376.75 50.32 L377.27 50.36 L377.79 50.4 L378.31 50.43 L378.82 50.46 L379.34 50.49 L379.86 50.52 L380.37 50.55 L380.89 50.58 L381.41 50.6 L381.92 50.63 L382.44 50.65 L382.96 50.67 L383.47 50.69 L383.99 50.71 L384.51 50.73 L385.02 50.75 L385.54 50.77 L386.06 50.79 L386.58 50.81 L387.09 50.82 L387.61 50.84 L388.13 50.86 L388.64 50.87 L389.16 50.89 L389.68 50.9 L390.19 50.92 L390.71 50.93 L391.23 50.95 L391.74 50.96 L392.26 50.98 L392.78 50.99 L393.3 51 L393.81 51.02 L394.33 51.03 L394.85 51.04 L395.36 51.06 L395.88 51.07 L396.4 51.08 L396.91 51.09 L397.43 51.1 L397.95 51.12 L398.46 51.13 L398.98 51.14 L399.5 51.15 L400.01 51.16 L400.53 51.17 L401.05 51.18 L401.56 51.19 L402.08 51.2 L402.6 51.21 L403.12 51.23 L403.63 51.24 L404.15 51.25 L404.67 51.26 L405.18 51.27 L405.7 51.28" fill="none" stroke="#f524c8" stroke-width="1.9" stroke-linejoin="round" stroke-linecap="round"/>
<path d="M344 43.8 L345.9 57.6 L347.4 72 L348.4 90 L350 117.6 L351.8 140 L353 157.6 L354.4 168.5" fill="none" stroke="#222" stroke-width="1.2" stroke-dasharray="4.2 2.4"/>
<path d="M351.8 42 L355.8 57.6 L359.1 76 L360 97.6 L361 126.8 L363.2 141.5 L367.4 157.6 L368.9 164" fill="none" stroke="#222" stroke-width="1.2" stroke-dasharray="4.2 2.4"/>
<text x="405" y="175.11" font-size="8.3" text-anchor="end" fill="#111" stroke="#111" stroke-width="0.3" font-family='"Liberation Sans", Arial, sans-serif' font-weight="normal" font-style="normal">=1.00</text>
<text x="383.7" y="175.11" font-size="7.2" text-anchor="end" fill="#111" stroke="#111" stroke-width="0.15" font-family='"Liberation Serif", "Times New Roman", serif' font-weight="normal" font-style="italic">x</text>
<text x="405" y="161.25" font-size="8.3" text-anchor="end" fill="#111" stroke="#111" stroke-width="0.3" font-family='"Liberation Sans", Arial, sans-serif' font-weight="normal" font-style="normal">=0.94</text>
<text x="383.7" y="161.25" font-size="7.2" text-anchor="end" fill="#111" stroke="#111" stroke-width="0.15" font-family='"Liberation Serif", "Times New Roman", serif' font-weight="normal" font-style="italic">x</text>
<text x="405" y="148.42" font-size="8.3" text-anchor="end" fill="#111" stroke="#111" stroke-width="0.3" font-family='"Liberation Sans", Arial, sans-serif' font-weight="normal" font-style="normal">=0.81</text>
<text x="383.7" y="148.42" font-size="7.2" text-anchor="end" fill="#111" stroke="#111" stroke-width="0.15" font-family='"Liberation Serif", "Times New Roman", serif' font-weight="normal" font-style="italic">x</text>
<text x="405" y="134.55" font-size="8.3" text-anchor="end" fill="#111" stroke="#111" stroke-width="0.3" font-family='"Liberation Sans", Arial, sans-serif' font-weight="normal" font-style="normal">=0.73</text>
<text x="383.7" y="134.55" font-size="7.2" text-anchor="end" fill="#111" stroke="#111" stroke-width="0.15" font-family='"Liberation Serif", "Times New Roman", serif' font-weight="normal" font-style="italic">x</text>
<text x="405" y="120.43" font-size="8.3" text-anchor="end" fill="#111" stroke="#111" stroke-width="0.3" font-family='"Liberation Sans", Arial, sans-serif' font-weight="normal" font-style="normal">=0.53</text>
<text x="383.7" y="120.43" font-size="7.2" text-anchor="end" fill="#111" stroke="#111" stroke-width="0.15" font-family='"Liberation Serif", "Times New Roman", serif' font-weight="normal" font-style="italic">x</text>
<text x="405" y="106.69" font-size="8.3" text-anchor="end" fill="#111" stroke="#111" stroke-width="0.3" font-family='"Liberation Sans", Arial, sans-serif' font-weight="normal" font-style="normal">=0.39</text>
<text x="383.7" y="106.69" font-size="7.2" text-anchor="end" fill="#111" stroke="#111" stroke-width="0.15" font-family='"Liberation Serif", "Times New Roman", serif' font-weight="normal" font-style="italic">x</text>
<text x="405" y="92.57" font-size="8.3" text-anchor="end" fill="#111" stroke="#111" stroke-width="0.3" font-family='"Liberation Sans", Arial, sans-serif' font-weight="normal" font-style="normal">=0.33</text>
<text x="383.7" y="92.57" font-size="7.2" text-anchor="end" fill="#111" stroke="#111" stroke-width="0.15" font-family='"Liberation Serif", "Times New Roman", serif' font-weight="normal" font-style="italic">x</text>
<text x="405" y="77.92" font-size="8.3" text-anchor="end" fill="#111" stroke="#111" stroke-width="0.3" font-family='"Liberation Sans", Arial, sans-serif' font-weight="normal" font-style="normal">=0.21</text>
<text x="383.7" y="77.92" font-size="7.2" text-anchor="end" fill="#111" stroke="#111" stroke-width="0.15" font-family='"Liberation Serif", "Times New Roman", serif' font-weight="normal" font-style="italic">x</text>
<text x="405" y="64.19" font-size="8.3" text-anchor="end" fill="#111" stroke="#111" stroke-width="0.3" font-family='"Liberation Sans", Arial, sans-serif' font-weight="normal" font-style="normal">=0.14</text>
<text x="383.7" y="64.19" font-size="7.2" text-anchor="end" fill="#111" stroke="#111" stroke-width="0.15" font-family='"Liberation Serif", "Times New Roman", serif' font-weight="normal" font-style="italic">x</text>
<text x="405" y="49.42" font-size="8.3" text-anchor="end" fill="#111" stroke="#111" stroke-width="0.3" font-family='"Liberation Sans", Arial, sans-serif' font-weight="normal" font-style="normal">=0.00</text>
<text x="383.7" y="49.42" font-size="7.2" text-anchor="end" fill="#111" stroke="#111" stroke-width="0.15" font-family='"Liberation Serif", "Times New Roman", serif' font-weight="normal" font-style="italic">x</text>
<rect x="323" y="22" width="82.7" height="155.5" fill="none" stroke="#4a4a4a" stroke-width="1"/>
<line x1="320" y1="177.5" x2="323" y2="177.5" stroke="#4a4a4a" stroke-width="1.1"/>
<text x="318.6" y="179.5" font-size="8.2" text-anchor="end" fill="#111" stroke="#111" stroke-width="0.3" font-family='"Liberation Sans", Arial, sans-serif' font-weight="normal" font-style="normal">0</text>
<line x1="320" y1="151.58" x2="323" y2="151.58" stroke="#4a4a4a" stroke-width="1.1"/>
<text x="318.6" y="153.58" font-size="8.2" text-anchor="end" fill="#111" stroke="#111" stroke-width="0.3" font-family='"Liberation Sans", Arial, sans-serif' font-weight="normal" font-style="normal">2</text>
<line x1="320" y1="125.67" x2="323" y2="125.67" stroke="#4a4a4a" stroke-width="1.1"/>
<text x="318.6" y="127.67" font-size="8.2" text-anchor="end" fill="#111" stroke="#111" stroke-width="0.3" font-family='"Liberation Sans", Arial, sans-serif' font-weight="normal" font-style="normal">4</text>
<line x1="320" y1="99.75" x2="323" y2="99.75" stroke="#4a4a4a" stroke-width="1.1"/>
<text x="318.6" y="101.75" font-size="8.2" text-anchor="end" fill="#111" stroke="#111" stroke-width="0.3" font-family='"Liberation Sans", Arial, sans-serif' font-weight="normal" font-style="normal">6</text>
<line x1="320" y1="73.83" x2="323" y2="73.83" stroke="#4a4a4a" stroke-width="1.1"/>
<text x="318.6" y="75.83" font-size="8.2" text-anchor="end" fill="#111" stroke="#111" stroke-width="0.3" font-family='"Liberation Sans", Arial, sans-serif' font-weight="normal" font-style="normal">8</text>
<line x1="320" y1="47.92" x2="323" y2="47.92" stroke="#4a4a4a" stroke-width="1.1"/>
<text x="318.6" y="49.92" font-size="8.2" text-anchor="end" fill="#111" stroke="#111" stroke-width="0.3" font-family='"Liberation Sans", Arial, sans-serif' font-weight="normal" font-style="normal">10</text>
<line x1="320" y1="22" x2="323" y2="22" stroke="#4a4a4a" stroke-width="1.1"/>
<text x="318.6" y="24" font-size="8.2" text-anchor="end" fill="#111" stroke="#111" stroke-width="0.3" font-family='"Liberation Sans", Arial, sans-serif' font-weight="normal" font-style="normal">12</text>
<line x1="321.2" y1="164.54" x2="323" y2="164.54" stroke="#4a4a4a" stroke-width="1"/>
<line x1="321.2" y1="138.62" x2="323" y2="138.62" stroke="#4a4a4a" stroke-width="1"/>
<line x1="321.2" y1="112.71" x2="323" y2="112.71" stroke="#4a4a4a" stroke-width="1"/>
<line x1="321.2" y1="86.79" x2="323" y2="86.79" stroke="#4a4a4a" stroke-width="1"/>
<line x1="321.2" y1="60.88" x2="323" y2="60.88" stroke="#4a4a4a" stroke-width="1"/>
<line x1="321.2" y1="34.96" x2="323" y2="34.96" stroke="#4a4a4a" stroke-width="1"/>
<line x1="323" y1="177.5" x2="323" y2="180.7" stroke="#4a4a4a" stroke-width="1.1"/>
<text x="323" y="191.4" font-size="8.2" text-anchor="middle" fill="#111" stroke="#111" stroke-width="0.3" font-family='"Liberation Sans", Arial, sans-serif' font-weight="normal" font-style="normal">1.4</text>
<line x1="343.68" y1="177.5" x2="343.68" y2="180.7" stroke="#4a4a4a" stroke-width="1.1"/>
<text x="343.68" y="191.4" font-size="8.2" text-anchor="middle" fill="#111" stroke="#111" stroke-width="0.3" font-family='"Liberation Sans", Arial, sans-serif' font-weight="normal" font-style="normal">1.5</text>
<line x1="364.35" y1="177.5" x2="364.35" y2="180.7" stroke="#4a4a4a" stroke-width="1.1"/>
<text x="364.35" y="191.4" font-size="8.2" text-anchor="middle" fill="#111" stroke="#111" stroke-width="0.3" font-family='"Liberation Sans", Arial, sans-serif' font-weight="normal" font-style="normal">1.6</text>
<line x1="385.02" y1="177.5" x2="385.02" y2="180.7" stroke="#4a4a4a" stroke-width="1.1"/>
<text x="385.02" y="191.4" font-size="8.2" text-anchor="middle" fill="#111" stroke="#111" stroke-width="0.3" font-family='"Liberation Sans", Arial, sans-serif' font-weight="normal" font-style="normal">1.7</text>
<line x1="405.7" y1="177.5" x2="405.7" y2="180.7" stroke="#4a4a4a" stroke-width="1.1"/>
<text x="405.7" y="191.4" font-size="8.2" text-anchor="middle" fill="#111" stroke="#111" stroke-width="0.3" font-family='"Liberation Sans", Arial, sans-serif' font-weight="normal" font-style="normal">1.8</text>
<line x1="333.34" y1="177.5" x2="333.34" y2="179.5" stroke="#4a4a4a" stroke-width="1"/>
<line x1="354.01" y1="177.5" x2="354.01" y2="179.5" stroke="#4a4a4a" stroke-width="1"/>
<line x1="374.69" y1="177.5" x2="374.69" y2="179.5" stroke="#4a4a4a" stroke-width="1"/>
<line x1="395.36" y1="177.5" x2="395.36" y2="179.5" stroke="#4a4a4a" stroke-width="1"/>
<text x="324.8" y="30.4" font-size="8.3" text-anchor="start" fill="#111" stroke="#111" stroke-width="0.3" font-family='"Liberation Sans", Arial, sans-serif' font-weight="normal" font-style="normal">Bilayer</text>
<text x="363.9" y="204" font-size="10.4" text-anchor="middle" fill="#111" stroke="#111" stroke-width="0.42" font-family='"Liberation Sans", Arial, sans-serif' font-weight="normal" font-style="normal" letter-spacing="0.16">Emission Energy (eV)</text>
<text x="303.4" y="104.6" font-size="10.2" text-anchor="middle" fill="#111" stroke="#111" stroke-width="0.42" font-family='"Liberation Sans", Arial, sans-serif' font-weight="normal" font-style="normal" transform="rotate(-90 303.4 104.6)" letter-spacing="0.23">Normalized PL Intensity (a.u)</text>
<text x="430.2" y="13" font-size="15.2" text-anchor="start" fill="#111" stroke="#111" stroke-width="0.15" font-family='"Liberation Serif", "Times New Roman", serif' font-weight="bold" font-style="normal" letter-spacing="1">(d)</text>
<rect x="459.6" y="21.9" width="83.8" height="158.9" fill="none" stroke="#4a4a4a" stroke-width="1"/>
<line x1="456.2" y1="163" x2="459.6" y2="163" stroke="#4a4a4a" stroke-width="1.1"/>
<text x="454.4" y="165.7" font-size="8.2" text-anchor="end" fill="#111" stroke="#111" stroke-width="0.3" font-family='"Liberation Sans", Arial, sans-serif' font-weight="normal" font-style="normal">1.48</text>
<line x1="456.2" y1="127.85" x2="459.6" y2="127.85" stroke="#4a4a4a" stroke-width="1.1"/>
<text x="454.4" y="130.55" font-size="8.2" text-anchor="end" fill="#111" stroke="#111" stroke-width="0.3" font-family='"Liberation Sans", Arial, sans-serif' font-weight="normal" font-style="normal">1.52</text>
<line x1="456.2" y1="92.7" x2="459.6" y2="92.7" stroke="#4a4a4a" stroke-width="1.1"/>
<text x="454.4" y="95.4" font-size="8.2" text-anchor="end" fill="#111" stroke="#111" stroke-width="0.3" font-family='"Liberation Sans", Arial, sans-serif' font-weight="normal" font-style="normal">1.56</text>
<line x1="456.2" y1="57.55" x2="459.6" y2="57.55" stroke="#4a4a4a" stroke-width="1.1"/>
<text x="454.4" y="60.25" font-size="8.2" text-anchor="end" fill="#111" stroke="#111" stroke-width="0.3" font-family='"Liberation Sans", Arial, sans-serif' font-weight="normal" font-style="normal">1.60</text>
<line x1="456.2" y1="22.4" x2="459.6" y2="22.4" stroke="#4a4a4a" stroke-width="1.1"/>
<text x="454.4" y="25.1" font-size="8.2" text-anchor="end" fill="#111" stroke="#111" stroke-width="0.3" font-family='"Liberation Sans", Arial, sans-serif' font-weight="normal" font-style="normal">1.64</text>
<line x1="457.6" y1="145.42" x2="459.6" y2="145.42" stroke="#4a4a4a" stroke-width="1"/>
<line x1="457.6" y1="110.27" x2="459.6" y2="110.27" stroke="#4a4a4a" stroke-width="1"/>
<line x1="457.6" y1="75.12" x2="459.6" y2="75.12" stroke="#4a4a4a" stroke-width="1"/>
<line x1="457.6" y1="39.97" x2="459.6" y2="39.97" stroke="#4a4a4a" stroke-width="1"/>
<line x1="466" y1="180.8" x2="466" y2="184" stroke="#4a4a4a" stroke-width="1.1"/>
<text x="466.5" y="191.4" font-size="8.2" text-anchor="middle" fill="#111" stroke="#111" stroke-width="0.3" font-family='"Liberation Sans", Arial, sans-serif' font-weight="normal" font-style="normal">0.0</text>
<line x1="501.15" y1="180.8" x2="501.15" y2="184" stroke="#4a4a4a" stroke-width="1.1"/>
<text x="501.65" y="191.4" font-size="8.2" text-anchor="middle" fill="#111" stroke="#111" stroke-width="0.3" font-family='"Liberation Sans", Arial, sans-serif' font-weight="normal" font-style="normal">0.5</text>
<line x1="536.3" y1="180.8" x2="536.3" y2="184" stroke="#4a4a4a" stroke-width="1.1"/>
<text x="536.8" y="191.4" font-size="8.2" text-anchor="middle" fill="#111" stroke="#111" stroke-width="0.3" font-family='"Liberation Sans", Arial, sans-serif' font-weight="normal" font-style="normal">1.0</text>
<line x1="483.57" y1="180.8" x2="483.57" y2="182.8" stroke="#4a4a4a" stroke-width="1"/>
<line x1="518.73" y1="180.8" x2="518.73" y2="182.8" stroke="#4a4a4a" stroke-width="1"/>
<line x1="466" y1="170.03" x2="466" y2="148.94" stroke="#3c3c3c" stroke-width="1.2"/>
<line x1="464.3" y1="170.03" x2="467.7" y2="170.03" stroke="#3c3c3c" stroke-width="1.2"/>
<line x1="464.3" y1="148.94" x2="467.7" y2="148.94" stroke="#3c3c3c" stroke-width="1.2"/>
<rect x="464.2" y="157.68" width="3.6" height="3.6" rx="0.6" fill="#151515"/>
<line x1="475.84" y1="155.97" x2="475.84" y2="136.64" stroke="#3c3c3c" stroke-width="1.2"/>
<line x1="474.14" y1="155.97" x2="477.54" y2="155.97" stroke="#3c3c3c" stroke-width="1.2"/>
<line x1="474.14" y1="136.64" x2="477.54" y2="136.64" stroke="#3c3c3c" stroke-width="1.2"/>
<rect x="474.04" y="144.5" width="3.6" height="3.6" rx="0.6" fill="#151515"/>
<line x1="480.76" y1="153.33" x2="480.76" y2="139.27" stroke="#3c3c3c" stroke-width="1.2"/>
<line x1="479.06" y1="153.33" x2="482.46" y2="153.33" stroke="#3c3c3c" stroke-width="1.2"/>
<line x1="479.06" y1="139.27" x2="482.46" y2="139.27" stroke="#3c3c3c" stroke-width="1.2"/>
<rect x="478.96" y="144.5" width="3.6" height="3.6" rx="0.6" fill="#151515"/>
<line x1="489.2" y1="155.09" x2="489.2" y2="130.49" stroke="#3c3c3c" stroke-width="1.2"/>
<line x1="487.5" y1="155.09" x2="490.9" y2="155.09" stroke="#3c3c3c" stroke-width="1.2"/>
<line x1="487.5" y1="130.49" x2="490.9" y2="130.49" stroke="#3c3c3c" stroke-width="1.2"/>
<rect x="487.4" y="140.99" width="3.6" height="3.6" rx="0.6" fill="#151515"/>
<line x1="493.42" y1="139.27" x2="493.42" y2="132.24" stroke="#3c3c3c" stroke-width="1.2"/>
<line x1="491.72" y1="139.27" x2="495.12" y2="139.27" stroke="#3c3c3c" stroke-width="1.2"/>
<line x1="491.72" y1="132.24" x2="495.12" y2="132.24" stroke="#3c3c3c" stroke-width="1.2"/>
<rect x="491.62" y="133.96" width="3.6" height="3.6" rx="0.6" fill="#151515"/>
<line x1="503.26" y1="149.82" x2="503.26" y2="130.49" stroke="#3c3c3c" stroke-width="1.2"/>
<line x1="501.56" y1="149.82" x2="504.96" y2="149.82" stroke="#3c3c3c" stroke-width="1.2"/>
<line x1="501.56" y1="130.49" x2="504.96" y2="130.49" stroke="#3c3c3c" stroke-width="1.2"/>
<rect x="501.46" y="138.35" width="3.6" height="3.6" rx="0.6" fill="#151515"/>
<line x1="517.32" y1="132.24" x2="517.32" y2="123.46" stroke="#3c3c3c" stroke-width="1.2"/>
<line x1="515.62" y1="132.24" x2="519.02" y2="132.24" stroke="#3c3c3c" stroke-width="1.2"/>
<line x1="515.62" y1="123.46" x2="519.02" y2="123.46" stroke="#3c3c3c" stroke-width="1.2"/>
<rect x="515.52" y="126.05" width="3.6" height="3.6" rx="0.6" fill="#151515"/>
<line x1="522.94" y1="132.24" x2="522.94" y2="119.94" stroke="#3c3c3c" stroke-width="1.2"/>
<line x1="521.24" y1="132.24" x2="524.64" y2="132.24" stroke="#3c3c3c" stroke-width="1.2"/>
<line x1="521.24" y1="119.94" x2="524.64" y2="119.94" stroke="#3c3c3c" stroke-width="1.2"/>
<rect x="521.14" y="124.29" width="3.6" height="3.6" rx="0.6" fill="#151515"/>
<line x1="532.08" y1="114.67" x2="532.08" y2="83.03" stroke="#3c3c3c" stroke-width="1.2"/>
<line x1="530.38" y1="114.67" x2="533.78" y2="114.67" stroke="#3c3c3c" stroke-width="1.2"/>
<line x1="530.38" y1="83.03" x2="533.78" y2="83.03" stroke="#3c3c3c" stroke-width="1.2"/>
<rect x="530.28" y="97.05" width="3.6" height="3.6" rx="0.6" fill="#151515"/>
<line x1="536.3" y1="97.97" x2="536.3" y2="89.19" stroke="#3c3c3c" stroke-width="1.2"/>
<line x1="534.6" y1="97.97" x2="538" y2="97.97" stroke="#3c3c3c" stroke-width="1.2"/>
<line x1="534.6" y1="89.19" x2="538" y2="89.19" stroke="#3c3c3c" stroke-width="1.2"/>
<rect x="534.5" y="91.78" width="3.6" height="3.6" rx="0.6" fill="#151515"/>
<line x1="466" y1="122.58" x2="466" y2="115.55" stroke="#f2303c" stroke-width="1.2"/>
<line x1="464.3" y1="122.58" x2="467.7" y2="122.58" stroke="#f2303c" stroke-width="1.2"/>
<line x1="464.3" y1="115.55" x2="467.7" y2="115.55" stroke="#f2303c" stroke-width="1.2"/>
<circle cx="466" cy="119.06" r="2.0" fill="#f0202c"/>
<line x1="475.84" y1="125.21" x2="475.84" y2="112.91" stroke="#f2303c" stroke-width="1.2"/>
<line x1="474.14" y1="125.21" x2="477.54" y2="125.21" stroke="#f2303c" stroke-width="1.2"/>
<line x1="474.14" y1="112.91" x2="477.54" y2="112.91" stroke="#f2303c" stroke-width="1.2"/>
<circle cx="475.84" cy="119.06" r="2.0" fill="#f0202c"/>
<line x1="480.76" y1="123.46" x2="480.76" y2="118.18" stroke="#f2303c" stroke-width="1.2"/>
<line x1="479.06" y1="123.46" x2="482.46" y2="123.46" stroke="#f2303c" stroke-width="1.2"/>
<line x1="479.06" y1="118.18" x2="482.46" y2="118.18" stroke="#f2303c" stroke-width="1.2"/>
<circle cx="480.76" cy="120.82" r="2.0" fill="#f0202c"/>
<line x1="489.2" y1="121.7" x2="489.2" y2="91.82" stroke="#f2303c" stroke-width="1.2"/>
<line x1="487.5" y1="121.7" x2="490.9" y2="121.7" stroke="#f2303c" stroke-width="1.2"/>
<line x1="487.5" y1="91.82" x2="490.9" y2="91.82" stroke="#f2303c" stroke-width="1.2"/>
<circle cx="489.2" cy="106.76" r="2.0" fill="#f0202c"/>
<line x1="493.42" y1="107.64" x2="493.42" y2="100.61" stroke="#f2303c" stroke-width="1.2"/>
<line x1="491.72" y1="107.64" x2="495.12" y2="107.64" stroke="#f2303c" stroke-width="1.2"/>
<line x1="491.72" y1="100.61" x2="495.12" y2="100.61" stroke="#f2303c" stroke-width="1.2"/>
<circle cx="493.42" cy="104.12" r="2.0" fill="#f0202c"/>
<line x1="503.26" y1="110.27" x2="503.26" y2="82.15" stroke="#f2303c" stroke-width="1.2"/>
<line x1="501.56" y1="110.27" x2="504.96" y2="110.27" stroke="#f2303c" stroke-width="1.2"/>
<line x1="501.56" y1="82.15" x2="504.96" y2="82.15" stroke="#f2303c" stroke-width="1.2"/>
<circle cx="503.26" cy="96.21" r="2.0" fill="#f0202c"/>
<line x1="517.32" y1="99.73" x2="517.32" y2="82.15" stroke="#f2303c" stroke-width="1.2"/>
<line x1="515.62" y1="99.73" x2="519.02" y2="99.73" stroke="#f2303c" stroke-width="1.2"/>
<line x1="515.62" y1="82.15" x2="519.02" y2="82.15" stroke="#f2303c" stroke-width="1.2"/>
<circle cx="517.32" cy="90.94" r="2.0" fill="#f0202c"/>
<line x1="522.94" y1="86.55" x2="522.94" y2="70.73" stroke="#f2303c" stroke-width="1.2"/>
<line x1="521.24" y1="86.55" x2="524.64" y2="86.55" stroke="#f2303c" stroke-width="1.2"/>
<line x1="521.24" y1="70.73" x2="524.64" y2="70.73" stroke="#f2303c" stroke-width="1.2"/>
<circle cx="522.94" cy="78.64" r="2.0" fill="#f0202c"/>
<line x1="532.08" y1="47.88" x2="532.08" y2="28.55" stroke="#f2303c" stroke-width="1.2"/>
<line x1="530.38" y1="47.88" x2="533.78" y2="47.88" stroke="#f2303c" stroke-width="1.2"/>
<line x1="530.38" y1="28.55" x2="533.78" y2="28.55" stroke="#f2303c" stroke-width="1.2"/>
<circle cx="532.08" cy="38.22" r="2.0" fill="#f0202c"/>
<line x1="536.3" y1="39.97" x2="536.3" y2="32.94" stroke="#f2303c" stroke-width="1.2"/>
<line x1="534.6" y1="39.97" x2="538" y2="39.97" stroke="#f2303c" stroke-width="1.2"/>
<line x1="534.6" y1="32.94" x2="538" y2="32.94" stroke="#f2303c" stroke-width="1.2"/>
<circle cx="536.3" cy="36.46" r="2.0" fill="#f0202c"/>
<rect x="468.2" y="26.0" width="3.2" height="3.2" fill="#151515"/>
<circle cx="469.8" cy="36.5" r="1.8" fill="#f0202c"/>
<text x="479.6" y="30" font-size="6.9" text-anchor="start" fill="#111" stroke="#111" stroke-width="0.3" font-family='"Liberation Sans", Arial, sans-serif' font-weight="normal" font-style="normal" letter-spacing="0.3">2L-peak 1</text>
<text x="479.6" y="39" font-size="6.9" text-anchor="start" fill="#111" stroke="#111" stroke-width="0.3" font-family='"Liberation Sans", Arial, sans-serif' font-weight="normal" font-style="normal" letter-spacing="0.3">2L-peak 2</text>
<text x="502" y="204" font-size="9.9" text-anchor="middle" fill="#111" stroke="#111" stroke-width="0.42" font-family='"Liberation Sans", Arial, sans-serif' letter-spacing="0.2">W composition <tspan font-family='"Liberation Serif", "Times New Roman", serif' font-style="italic" font-size="10.4" stroke-width="0.1">x</tspan></text>
<text x="431.3" y="105.1" font-size="10.4" text-anchor="middle" fill="#111" stroke="#111" stroke-width="0.42" font-family='"Liberation Sans", Arial, sans-serif' font-weight="normal" font-style="normal" transform="rotate(-90 431.3 105.1)" letter-spacing="0.41">Emission Energy (eV)</text>
<defs>
<linearGradient id="cb" x1="0" x2="1" y1="0" y2="0"><stop offset="0" stop-color="#060000"/><stop offset="0.3" stop-color="#4a0000"/><stop offset="0.62" stop-color="#c00a0a"/><stop offset="0.85" stop-color="#f81c1c"/><stop offset="1" stop-color="#ff2424"/></linearGradient>
<filter id="bl" x="-40%" y="-40%" width="180%" height="180%"><feGaussianBlur stdDeviation="2.4"/></filter>
<filter id="bl2" x="-100%" y="-100%" width="300%" height="300%"><feGaussianBlur stdDeviation="7"/></filter>
<filter id="bl3" x="-120%" y="-120%" width="340%" height="340%"><feGaussianBlur stdDeviation="12"/></filter>
<clipPath id="ce"><rect x="118.2" y="219.7" width="136.6" height="135.3"/></clipPath>
</defs>
<rect x="118.2" y="219.7" width="136.6" height="135.3" fill="#0b0606"/>
<g clip-path="url(#ce)">
<ellipse cx="196" cy="296" rx="27" ry="78" fill="#440000" filter="url(#bl3)"/>
<path d="M185.6 237.6 C186.85 237.77 189.03 240.13 190.5 241.5 C191.97 242.87 192.75 243.12 194.4 245.8 C196.05 248.48 198.42 253.17 200.4 257.6 C202.38 262.03 204.82 267.45 206.3 272.4 C207.78 277.35 208.58 282.37 209.3 287.3 C210.02 292.23 210.85 297.57 210.6 302 C210.35 306.43 209.02 310.83 207.8 313.9 C206.58 316.97 204.43 319.28 203.3 320.4 C202.17 321.52 201.73 321.18 201 320.6 C200.27 320.02 200 318.27 198.9 316.9 C197.8 315.53 196.13 314.13 194.4 312.4 C192.67 310.67 190.47 308.47 188.5 306.5 C186.53 304.53 184.33 302.42 182.6 300.6 C180.87 298.78 179.18 297.08 178.1 295.6 C177.02 294.12 176.73 293.08 176.1 291.7 C175.47 290.32 174.45 289.52 174.3 287.3 C174.15 285.08 174.9 281.37 175.2 278.4 C175.5 275.43 175.62 272.97 176.1 269.5 C176.58 266.03 177.27 261.55 178.1 257.6 C178.93 253.65 180.28 248.65 181.1 245.8 C181.92 242.95 182.25 241.87 183 240.5 C183.75 239.13 184.35 237.43 185.6 237.6 Z" fill="#860000" stroke="#860000" stroke-width="10" stroke-linejoin="round" filter="url(#bl2)"/>
<path d="M185.6 237.6 C186.85 237.77 189.03 240.13 190.5 241.5 C191.97 242.87 192.75 243.12 194.4 245.8 C196.05 248.48 198.42 253.17 200.4 257.6 C202.38 262.03 204.82 267.45 206.3 272.4 C207.78 277.35 208.58 282.37 209.3 287.3 C210.02 292.23 210.85 297.57 210.6 302 C210.35 306.43 209.02 310.83 207.8 313.9 C206.58 316.97 204.43 319.28 203.3 320.4 C202.17 321.52 201.73 321.18 201 320.6 C200.27 320.02 200 318.27 198.9 316.9 C197.8 315.53 196.13 314.13 194.4 312.4 C192.67 310.67 190.47 308.47 188.5 306.5 C186.53 304.53 184.33 302.42 182.6 300.6 C180.87 298.78 179.18 297.08 178.1 295.6 C177.02 294.12 176.73 293.08 176.1 291.7 C175.47 290.32 174.45 289.52 174.3 287.3 C174.15 285.08 174.9 281.37 175.2 278.4 C175.5 275.43 175.62 272.97 176.1 269.5 C176.58 266.03 177.27 261.55 178.1 257.6 C178.93 253.65 180.28 248.65 181.1 245.8 C181.92 242.95 182.25 241.87 183 240.5 C183.75 239.13 184.35 237.43 185.6 237.6 Z" fill="#c00c0c" stroke="#c00c0c" stroke-width="0.6" stroke-linejoin="round" filter="url(#bl)"/>
<path d="M188.5 250.5 C189.65 250.58 191.17 250.67 192.5 251.5 C193.83 252.33 195.25 253.83 196.5 255.5 C197.75 257.17 198.62 258.5 200 261.5 C201.38 264.5 203.5 269.17 204.8 273.5 C206.1 277.83 207.1 282.83 207.8 287.5 C208.5 292.17 209.27 297.33 209 301.5 C208.73 305.67 207.23 309.82 206.2 312.5 C205.17 315.18 203.63 316.75 202.8 317.6 C201.97 318.45 201.75 317.93 201.2 317.6 C200.65 317.27 200.53 316.63 199.5 315.6 C198.47 314.57 196.72 313.07 195 311.4 C193.28 309.73 191.13 307.53 189.2 305.6 C187.27 303.67 185.05 301.57 183.4 299.8 C181.75 298.03 180.3 296.42 179.3 295 C178.3 293.58 177.98 292.6 177.4 291.3 C176.82 290 175.93 289.35 175.8 287.2 C175.67 285.05 176.3 281.33 176.6 278.4 C176.9 275.47 177.03 272.58 177.6 269.6 C178.17 266.62 179.07 263.18 180 260.5 C180.93 257.82 182.27 255.08 183.2 253.5 C184.13 251.92 184.72 251.5 185.6 251 C186.48 250.5 187.35 250.42 188.5 250.5 Z" fill="#ff2828" filter="url(#bl)"/>
</g>
<rect x="118.2" y="219.7" width="136.6" height="135.3" fill="none" stroke="#777" stroke-width="0.6"/>
<rect x="119.8" y="220.1" width="19.2" height="16.5" fill="#fff"/>
<text x="120.4" y="232.6" font-size="16.6" text-anchor="start" fill="#111" stroke="#111" stroke-width="0.3" font-family='"Liberation Serif", "Times New Roman", serif' font-weight="bold" font-style="normal" letter-spacing="0.4">(e)</text>
<text x="252" y="232.7" font-size="12.3" text-anchor="end" fill="#f4f4f4" stroke="#f4f4f4" stroke-width="0.1" font-family='"Liberation Sans", Arial, sans-serif' font-weight="normal" font-style="normal" letter-spacing="0.3">PL intensity</text>
<text x="183" y="279.2" font-size="10.4" text-anchor="start" fill="#fff" stroke="#fff" stroke-width="0.05" font-family='"Liberation Sans", Arial, sans-serif' font-weight="normal" font-style="normal">1L</text>
<text x="174.8" y="327" font-size="10.4" text-anchor="start" fill="#f0f0f0" stroke="#f0f0f0" stroke-width="0.05" font-family='"Liberation Sans", Arial, sans-serif' font-weight="normal" font-style="normal">2L</text>
<text x="232.8" y="343.2" font-size="11" text-anchor="middle" fill="#f4f0f0" stroke="#f4f0f0" stroke-width="0.1" font-family='"Liberation Sans", Arial, sans-serif' font-weight="normal" font-style="normal">2 µm</text>
<line x1="215" y1="349.8" x2="249.7" y2="349.8" stroke="#cdeccd" stroke-width="2.3"/>
<rect x="155.8" y="359.5" width="62.8" height="9.2" fill="url(#cb)"/>
<text x="153.4" y="367.8" font-size="10" text-anchor="end" fill="#111" stroke="#111" stroke-width="0.3" font-family='"Liberation Sans", Arial, sans-serif' font-weight="normal" font-style="normal">Low</text>
<text x="221" y="367.8" font-size="10" text-anchor="start" fill="#111" stroke="#111" stroke-width="0.3" font-family='"Liberation Sans", Arial, sans-serif' font-weight="normal" font-style="normal">High</text>
<line x1="116" y1="360.4" x2="116" y2="363.6" stroke="#333" stroke-width="0.9"/>
<text x="289.6" y="238.6" font-size="15" text-anchor="start" fill="#111" stroke="#111" stroke-width="0.15" font-family='"Liberation Serif", "Times New Roman", serif' font-weight="bold" font-style="normal" letter-spacing="0.8">(f)</text>
<line x1="287" y1="334.9" x2="427.3" y2="334.9" stroke="#2a2a2a" stroke-width="1.4"/>
<path d="M286.5 322.9 C290.77 322.83 303.57 322.68 312.1 322.5 C320.63 322.32 330.45 322.03 337.7 321.8 C344.95 321.57 350.71 321.27 355.62 321.1 C360.53 320.93 363.73 320.7 367.14 320.8 C370.55 320.9 373.11 321.35 376.1 321.7 C379.09 322.05 381.65 322.62 385.06 322.9 C388.47 323.18 389.54 323.28 396.58 323.4 C403.62 323.52 422.18 323.57 427.3 323.6" fill="none" stroke="#f0283c" stroke-width="1.2" stroke-linecap="round"/>
<path d="M286.5 311.22 L287.14 311.21 L287.78 311.21 L288.42 311.2 L289.06 311.2 L289.7 311.2 L290.34 311.19 L290.98 311.19 L291.62 311.19 L292.26 311.18 L292.9 311.18 L293.54 311.17 L294.18 311.17 L294.82 311.16 L295.46 311.16 L296.1 311.15 L296.74 311.15 L297.38 311.14 L298.02 311.14 L298.66 311.13 L299.3 311.13 L299.94 311.12 L300.58 311.11 L301.22 311.11 L301.86 311.1 L302.5 311.09 L303.14 311.09 L303.78 311.08 L304.42 311.07 L305.06 311.06 L305.7 311.05 L306.34 311.05 L306.98 311.04 L307.62 311.03 L308.26 311.02 L308.9 311.01 L309.54 311 L310.18 310.99 L310.82 310.98 L311.46 310.97 L312.1 310.95 L312.74 310.94 L313.38 310.93 L314.02 310.91 L314.66 310.9 L315.3 310.89 L315.94 310.87 L316.58 310.85 L317.22 310.84 L317.86 310.82 L318.5 310.8 L319.14 310.78 L319.78 310.76 L320.42 310.74 L321.06 310.72 L321.7 310.69 L322.34 310.67 L322.98 310.64 L323.62 310.62 L324.26 310.59 L324.9 310.56 L325.54 310.52 L326.18 310.49 L326.82 310.45 L327.46 310.41 L328.1 310.37 L328.74 310.32 L329.38 310.28 L330.02 310.22 L330.66 310.17 L331.3 310.11 L331.94 310.04 L332.58 309.97 L333.22 309.9 L333.86 309.82 L334.5 309.73 L335.14 309.63 L335.78 309.52 L336.42 309.41 L337.06 309.29 L337.7 309.15 L338.34 309 L338.98 308.84 L339.62 308.67 L340.26 308.48 L340.9 308.27 L341.54 308.05 L342.18 307.81 L342.82 307.55 L343.46 307.28 L344.1 306.98 L344.74 306.67 L345.38 306.33 L346.02 305.97 L346.66 305.6 L347.3 305.2 L347.94 304.79 L348.58 304.37 L349.22 303.93 L349.86 303.48 L350.5 303.04 L351.14 302.6 L351.78 302.17 L352.42 301.77 L353.06 301.4 L353.7 301.07 L354.34 300.8 L354.98 300.59 L355.62 300.46 L356.26 300.4 L356.9 300.43 L357.54 300.53 L358.18 300.71 L358.82 300.95 L359.46 301.26 L360.1 301.61 L360.74 302.01 L361.38 302.42 L362.02 302.86 L362.66 303.3 L363.3 303.75 L363.94 304.19 L364.58 304.62 L365.22 305.04 L365.86 305.44 L366.5 305.83 L367.14 306.19 L367.78 306.53 L368.42 306.86 L369.06 307.16 L369.7 307.45 L370.34 307.71 L370.98 307.96 L371.62 308.19 L372.26 308.4 L372.9 308.59 L373.54 308.77 L374.18 308.94 L374.82 309.09 L375.46 309.23 L376.1 309.36 L376.74 309.48 L377.38 309.59 L378.02 309.69 L378.66 309.78 L379.3 309.87 L379.94 309.94 L380.58 310.02 L381.22 310.08 L381.86 310.15 L382.5 310.2 L383.14 310.26 L383.78 310.31 L384.42 310.35 L385.06 310.39 L385.7 310.44 L386.34 310.47 L386.98 310.51 L387.62 310.54 L388.26 310.57 L388.9 310.6 L389.54 310.63 L390.18 310.66 L390.82 310.68 L391.46 310.71 L392.1 310.73 L392.74 310.75 L393.38 310.77 L394.02 310.79 L394.66 310.81 L395.3 310.83 L395.94 310.85 L396.58 310.86 L397.22 310.88 L397.86 310.89 L398.5 310.91 L399.14 310.92 L399.78 310.94 L400.42 310.95 L401.06 310.96 L401.7 310.97 L402.34 310.98 L402.98 310.99 L403.62 311 L404.26 311.01 L404.9 311.02 L405.54 311.03 L406.18 311.04 L406.82 311.05 L407.46 311.06 L408.1 311.07 L408.74 311.08 L409.38 311.08 L410.02 311.09 L410.66 311.1 L411.3 311.1 L411.94 311.11 L412.58 311.12 L413.22 311.12 L413.86 311.13 L414.5 311.13 L415.14 311.14 L415.78 311.15 L416.42 311.15 L417.06 311.16 L417.7 311.16 L418.34 311.17 L418.98 311.17 L419.62 311.18 L420.26 311.18 L420.9 311.18 L421.54 311.19 L422.18 311.19 L422.82 311.2 L423.46 311.2 L424.1 311.2 L424.74 311.21 L425.38 311.21 L426.02 311.21 L426.66 311.22 L427.3 311.22" fill="none" stroke="#3b5be0" stroke-width="1.5" stroke-linejoin="round" stroke-linecap="round"/>
<path d="M286.5 296.65 L287.14 296.65 L287.78 296.65 L288.42 296.64 L289.06 296.64 L289.7 296.64 L290.34 296.63 L290.98 296.63 L291.62 296.63 L292.26 296.62 L292.9 296.62 L293.54 296.62 L294.18 296.61 L294.82 296.61 L295.46 296.61 L296.1 296.6 L296.74 296.6 L297.38 296.59 L298.02 296.59 L298.66 296.59 L299.3 296.58 L299.94 296.58 L300.58 296.57 L301.22 296.56 L301.86 296.56 L302.5 296.55 L303.14 296.55 L303.78 296.54 L304.42 296.54 L305.06 296.53 L305.7 296.52 L306.34 296.52 L306.98 296.51 L307.62 296.5 L308.26 296.49 L308.9 296.48 L309.54 296.48 L310.18 296.47 L310.82 296.46 L311.46 296.45 L312.1 296.44 L312.74 296.43 L313.38 296.42 L314.02 296.41 L314.66 296.4 L315.3 296.38 L315.94 296.37 L316.58 296.36 L317.22 296.35 L317.86 296.33 L318.5 296.32 L319.14 296.3 L319.78 296.29 L320.42 296.27 L321.06 296.26 L321.7 296.24 L322.34 296.22 L322.98 296.2 L323.62 296.18 L324.26 296.16 L324.9 296.14 L325.54 296.12 L326.18 296.09 L326.82 296.07 L327.46 296.04 L328.1 296.02 L328.74 295.99 L329.38 295.96 L330.02 295.93 L330.66 295.89 L331.3 295.86 L331.94 295.82 L332.58 295.78 L333.22 295.74 L333.86 295.7 L334.5 295.66 L335.14 295.61 L335.78 295.56 L336.42 295.51 L337.06 295.45 L337.7 295.4 L338.34 295.33 L338.98 295.27 L339.62 295.2 L340.26 295.12 L340.9 295.04 L341.54 294.96 L342.18 294.87 L342.82 294.77 L343.46 294.67 L344.1 294.56 L344.74 294.44 L345.38 294.32 L346.02 294.18 L346.66 294.03 L347.3 293.88 L347.94 293.7 L348.58 293.52 L349.22 293.32 L349.86 293.1 L350.5 292.85 L351.14 292.59 L351.78 292.3 L352.42 291.97 L353.06 291.61 L353.7 291.2 L354.34 290.74 L354.98 290.22 L355.62 289.62 L356.26 288.93 L356.9 288.14 L357.54 287.21 L358.18 286.14 L358.82 284.9 L359.46 283.45 L360.1 281.78 L360.74 279.85 L361.38 277.64 L362.02 275.12 L362.66 272.28 L363.3 269.09 L363.94 265.56 L364.58 261.71 L365.22 257.56 L365.86 253.21 L366.5 248.76 L367.14 244.38 L367.78 240.32 L368.42 236.85 L369.06 234.26 L369.7 232.82 L370.34 232.69 L370.98 233.88 L371.62 236.25 L372.26 239.58 L372.9 243.55 L373.54 247.89 L374.18 252.34 L374.82 256.73 L375.46 260.92 L376.1 264.84 L376.74 268.44 L377.38 271.7 L378.02 274.61 L378.66 277.2 L379.3 279.47 L379.94 281.46 L380.58 283.18 L381.22 284.67 L381.86 285.96 L382.5 287.06 L383.14 288.02 L383.78 288.84 L384.42 289.55 L385.06 290.17 L385.7 290.71 L386.34 291.18 L386.98 291.6 L387.62 291.98 L388.26 292.31 L388.9 292.61 L389.54 292.89 L390.18 293.14 L390.82 293.36 L391.46 293.57 L392.1 293.76 L392.74 293.94 L393.38 294.1 L394.02 294.25 L394.66 294.4 L395.3 294.53 L395.94 294.65 L396.58 294.76 L397.22 294.87 L397.86 294.97 L398.5 295.06 L399.14 295.15 L399.78 295.23 L400.42 295.31 L401.06 295.39 L401.7 295.46 L402.34 295.52 L402.98 295.58 L403.62 295.64 L404.26 295.7 L404.9 295.75 L405.54 295.8 L406.18 295.85 L406.82 295.89 L407.46 295.94 L408.1 295.98 L408.74 296.02 L409.38 296.05 L410.02 296.09 L410.66 296.12 L411.3 296.16 L411.94 296.19 L412.58 296.22 L413.22 296.25 L413.86 296.27 L414.5 296.3 L415.14 296.33 L415.78 296.35 L416.42 296.37 L417.06 296.4 L417.7 296.42 L418.34 296.44 L418.98 296.46 L419.62 296.48 L420.26 296.5 L420.9 296.52 L421.54 296.54 L422.18 296.55 L422.82 296.57 L423.46 296.58 L424.1 296.6 L424.74 296.62 L425.38 296.63 L426.02 296.64 L426.66 296.66 L427.3 296.67" fill="none" stroke="#c23ad6" stroke-width="1.35" stroke-linejoin="round" stroke-linecap="round"/>
<text x="411.8" y="295.6" font-size="8.8" text-anchor="start" fill="#111" stroke="#111" stroke-width="0.3" font-family='"Liberation Sans", Arial, sans-serif' font-weight="normal" font-style="normal">1L</text>
<text x="411.8" y="309.4" font-size="8.8" text-anchor="start" fill="#111" stroke="#111" stroke-width="0.3" font-family='"Liberation Sans", Arial, sans-serif' font-weight="normal" font-style="normal">2L</text>
<text x="411.8" y="321.8" font-size="8.8" text-anchor="start" fill="#111" stroke="#111" stroke-width="0.3" font-family='"Liberation Sans", Arial, sans-serif' font-weight="normal" font-style="normal">3L</text>
<text x="408.8" y="333.7" font-size="8.8" text-anchor="start" fill="#111" stroke="#111" stroke-width="0.3" font-family='"Liberation Sans", Arial, sans-serif' font-weight="normal" font-style="normal" letter-spacing="0.3">bulk</text>
<rect x="287" y="223" width="140.3" height="117.2" fill="none" stroke="#4a4a4a" stroke-width="1"/>
<line x1="299.3" y1="340.2" x2="299.3" y2="343.2" stroke="#4a4a4a" stroke-width="1.1"/>
<text x="299.6" y="352.3" font-size="8.8" text-anchor="middle" fill="#111" stroke="#111" stroke-width="0.3" font-family='"Liberation Sans", Arial, sans-serif' font-weight="normal" font-style="normal">1.3</text>
<line x1="324.9" y1="340.2" x2="324.9" y2="343.2" stroke="#4a4a4a" stroke-width="1.1"/>
<text x="325.2" y="352.3" font-size="8.8" text-anchor="middle" fill="#111" stroke="#111" stroke-width="0.3" font-family='"Liberation Sans", Arial, sans-serif' font-weight="normal" font-style="normal">1.4</text>
<line x1="350.5" y1="340.2" x2="350.5" y2="343.2" stroke="#4a4a4a" stroke-width="1.1"/>
<text x="350.8" y="352.3" font-size="8.8" text-anchor="middle" fill="#111" stroke="#111" stroke-width="0.3" font-family='"Liberation Sans", Arial, sans-serif' font-weight="normal" font-style="normal">1.5</text>
<line x1="376.1" y1="340.2" x2="376.1" y2="343.2" stroke="#4a4a4a" stroke-width="1.1"/>
<text x="376.4" y="352.3" font-size="8.8" text-anchor="middle" fill="#111" stroke="#111" stroke-width="0.3" font-family='"Liberation Sans", Arial, sans-serif' font-weight="normal" font-style="normal">1.6</text>
<line x1="401.7" y1="340.2" x2="401.7" y2="343.2" stroke="#4a4a4a" stroke-width="1.1"/>
<text x="402" y="352.3" font-size="8.8" text-anchor="middle" fill="#111" stroke="#111" stroke-width="0.3" font-family='"Liberation Sans", Arial, sans-serif' font-weight="normal" font-style="normal">1.7</text>
<line x1="427.3" y1="340.2" x2="427.3" y2="343.2" stroke="#4a4a4a" stroke-width="1.1"/>
<text x="427.6" y="352.3" font-size="8.8" text-anchor="middle" fill="#111" stroke="#111" stroke-width="0.3" font-family='"Liberation Sans", Arial, sans-serif' font-weight="normal" font-style="normal">1.8</text>
<line x1="286.5" y1="340.2" x2="286.5" y2="342" stroke="#4a4a4a" stroke-width="1"/>
<line x1="312.1" y1="340.2" x2="312.1" y2="342" stroke="#4a4a4a" stroke-width="1"/>
<line x1="337.7" y1="340.2" x2="337.7" y2="342" stroke="#4a4a4a" stroke-width="1"/>
<line x1="363.3" y1="340.2" x2="363.3" y2="342" stroke="#4a4a4a" stroke-width="1"/>
<line x1="388.9" y1="340.2" x2="388.9" y2="342" stroke="#4a4a4a" stroke-width="1"/>
<line x1="414.5" y1="340.2" x2="414.5" y2="342" stroke="#4a4a4a" stroke-width="1"/>
<text x="357.5" y="367.6" font-size="12.4" text-anchor="middle" fill="#111" stroke="#111" stroke-width="0.3" font-family='"Liberation Sans", Arial, sans-serif' font-weight="normal" font-style="normal" letter-spacing="0.86">Emission Energy (eV)</text>
<text x="278.7" y="286.8" font-size="12.3" text-anchor="middle" fill="#111" stroke="#111" stroke-width="0.3" font-family='"Liberation Sans", Arial, sans-serif' font-weight="normal" font-style="normal" transform="rotate(-90 278.7 286.8)" letter-spacing="0.72">PL Intensity (a.u)</text>
</g>
</svg>
</body></html>
